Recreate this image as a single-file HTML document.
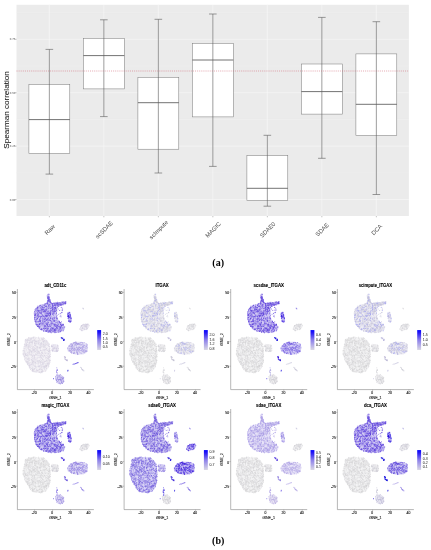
<!DOCTYPE html><html><head><meta charset="utf-8"><title>figure</title><style>html,body{margin:0;padding:0;background:#fff;width:431px;height:550px;overflow:hidden}svg{display:block}</style></head><body><svg width="431" height="550" viewBox="0 0 431 550" font-family="Liberation Sans, Arial, sans-serif"><defs><linearGradient id="cb" x1="0" y1="1" x2="0" y2="0"><stop offset="0" stop-color="#DAD8E4"/><stop offset="0.5" stop-color="#8C80EA"/><stop offset="0.85" stop-color="#2A1CF4"/><stop offset="1" stop-color="#0000FF"/></linearGradient><path id="A0" d="M29.07 26.13h0M18.28 32.13h0M18.02 35.65h0M29.76 48.33h0M20.85 44.13h0M40.31 41.59h0M26.98 27.71h0M42.36 23.87h0M17.42 31.66h0M21.4 28.96h0M26.74 35.81h0M33.17 38.69h0M38.32 40.79h0M32.73 40.09h0M43.04 45.69h0M43.75 47.24h0M27.43 45.66h0M28.69 49.78h0M29.08 39.41h0M26.21 30.93h0M21.36 44.95h0M19.88 28.21h0M35.55 39.66h0M35.05 41.11h0M42.59 51.66h0M32.84 34.44h0M25.81 39.58h0M27.59 47.5h0M17.17 35.22h0M39.07 36.91h0M40.5 52.01h0M30.21 36.45h0M20.09 26.21h0M31.52 35.08h0M43.78 47.61h0M36.95 23.29h0M34.7 50.72h0M41.13 24.87h0M36.96 28.99h0M31.25 26.84h0M26.41 32.37h0M24.2 32.58h0M23.82 43.49h0M44.73 44.35h0M42.05 46.59h0M42.36 43.01h0M37.5 52.39h0M22.67 30.62h0M20.19 32.74h0M24.39 49.31h0M33.25 30.06h0M32.62 46.42h0M32.44 22.7h0M39.13 44.54h0M19.29 31.17h0M45.59 48.36h0M22.09 32.82h0M36.42 45.32h0M45.54 24.27h0M20.98 27.67h0M43.06 48.67h0M44.46 21.94h0M34.51 44.95h0M34.63 29h0M25.88 50.42h0M31.97 45.81h0M33.01 38.78h0M26.14 29.48h0M38.98 38.48h0M28.03 40.12h0M29.67 15.98h0M37.26 52.34h0M38.07 26.9h0M33.83 44.23h0M39.53 31.08h0M19.58 29.2h0M38.46 37.5h0M34.05 47.54h0M23.45 40.48h0M21.89 30.47h0M29.97 39.48h0M30.92 20.39h0M21.35 47.85h0M29.9 50.91h0M35.74 47.47h0M33.44 30.56h0M23.14 43.08h0M24.21 31.63h0M30.86 20.64h0M33.87 28.65h0M31.07 30.74h0M41.91 47.93h0M21.26 35.68h0M38.46 34.18h0M30.01 34.14h0M44.75 23.93h0M23.74 45.11h0M34.57 44.43h0M21.22 27h0M24.75 45.73h0M31.2 25.34h0M38.74 28.81h0M43.08 22.52h0M30.86 38.11h0M33.75 45.68h0M31.26 18.57h0M29.72 42.72h0M46.64 47.22h0M26.7 42.26h0M25.1 27.9h0M32.59 28.53h0M43.27 50.5h0M21.76 31.04h0M27.18 33.91h0M18.97 42.71h0M43.71 25.12h0M30.28 49.46h0M28.72 26.52h0M37.87 44.62h0M32.71 51.5h0M19.05 39.89h0M18.59 43.8h0"/><path id="A1" d="M33.28 31h0M34.93 38.25h0M29.64 33.86h0M32.91 28.35h0M37.17 27.63h0M28.05 41.99h0M21.25 34.13h0M27.57 30.04h0M43.17 43.98h0M27.13 31.94h0M40.31 45.54h0M34.49 50.07h0M35.43 27.2h0M28.52 36.15h0M32.71 35.29h0M40.74 48.95h0M39.43 23.71h0M22.62 25.42h0M31.75 35.66h0M29.32 29.18h0M19.95 36.13h0M18.44 41.03h0M30.69 40.48h0M29.63 23.85h0M43.29 24.98h0M27.38 37.37h0M33.28 26.81h0M47.82 22.24h0M17.45 37.89h0M40.02 48.91h0M38.42 50.21h0M33.94 27.86h0M22.68 46.31h0M34.33 43.49h0M30.67 20.9h0M33.8 52.86h0M36.23 26.36h0M30.23 41.03h0M38.1 46.66h0M43.74 49.58h0M26.45 28.46h0M32.18 20.06h0M17.06 38.92h0M39.44 39.92h0M35.94 29.12h0M36.92 41.46h0M25.13 41.75h0M42.52 42.62h0M21.36 36.17h0M39.06 46.85h0M44.58 48.57h0M28.63 33.36h0M36.9 31.31h0M22.99 26h0M21.4 46.1h0M30.42 49.43h0M22.12 44.46h0M43.91 50.07h0M39.12 42.55h0M27.49 43.06h0M34.77 43.47h0M24.71 30.1h0M32.78 20.43h0M23.01 38.64h0M18.81 36.76h0M28.2 36.93h0M36.54 38.2h0M26.82 48.97h0M24.55 36.13h0M26.28 42.64h0M42.06 51.85h0M40.46 46.24h0M24.8 24.98h0M23.51 38.03h0M46.04 22.03h0M27.59 30.75h0M38.67 40.83h0M33.51 45.97h0M47.98 23.22h0M23.91 36.49h0M28.58 35.81h0M39.01 33.2h0M25.65 29.83h0M28.29 43.65h0M32.99 51.98h0M28.9 48.38h0M35.05 25.57h0M31.52 19.82h0M38.44 24.9h0M18.63 28.96h0M24.97 35.73h0M31.16 24.02h0M25.79 41.72h0M29.32 43.58h0M27.6 24.17h0M43.97 45.53h0M26.41 30.08h0M35.65 23.79h0M27.87 46.31h0M33.46 50.02h0M33.57 36.46h0M22.67 38.65h0M38 42.76h0M28.39 45.75h0M24.81 27.14h0M29.88 24.6h0M35.02 48.51h0M21.66 41.73h0M26.88 24.3h0M24.9 37.11h0M36.77 33.66h0M23.92 42.74h0M40.99 50.57h0M24.21 44.12h0M34.6 32.84h0M32.03 36.72h0M45.1 47.48h0M37.52 43.66h0M19.52 35.01h0M42.73 48.39h0M22.11 44.45h0"/><path id="A2" d="M34.37 48.35h0M33.64 50.34h0M37.8 23.29h0M32.98 26.02h0M33.8 43.25h0M21.67 26.73h0M38.72 49.56h0M38.47 25.22h0M29.96 17.43h0M22.24 32.13h0M42.68 24.6h0M34.2 23.27h0M31.25 31.51h0M28.33 33.19h0M43.08 51.71h0M23.16 33.37h0M36.87 25.51h0M20.2 35.63h0M39.32 46.78h0M30.23 49.71h0M37.1 46.05h0M42.06 50.22h0M18.56 33.47h0M43.05 23.63h0M45.7 24.86h0M43.07 23.43h0M40.29 44.17h0M21.58 32.74h0M17.96 39.84h0M24.23 29.89h0M18.45 35.85h0M31.04 33.8h0M20.23 38.58h0M47.39 46.98h0M33.02 22.55h0M22.19 25.98h0M39.84 22.98h0M40.07 25.01h0M41.49 26.17h0M35.74 50.51h0M36.24 28.41h0M27.34 25.94h0M35.91 27.04h0M26.94 30.44h0M31.69 32.54h0M30.25 22.44h0M48.11 23.69h0M39.96 24.98h0M28.17 45.91h0M45.74 49.19h0M46.58 47.21h0M19.4 41.77h0M29.51 32.68h0M29.2 30.03h0M25.04 29.97h0M17.65 40.29h0M36.88 50.9h0M33.77 42.75h0M28.3 30.33h0M36.08 51.39h0M38.56 48.83h0M31.41 35.22h0M36.4 33.4h0M42.95 25.41h0M26.93 49.14h0M20.11 38.43h0M37.05 27.81h0M16.83 32.82h0M41.87 41.62h0M31.8 46.63h0M17.9 30.55h0M25.39 43.94h0M29.27 47.88h0M33.34 33.86h0M37.52 52.7h0M25.23 38.8h0M32.11 40.45h0M32.9 24.14h0M25.06 44.17h0M44.83 44.97h0M28.82 26.78h0M42.59 46.1h0M36.77 32.19h0M38.1 50.94h0M41.62 49.57h0M35.88 37.93h0M27.85 41.28h0M35.73 43.39h0M29.41 35.16h0M23.04 41.16h0M30.65 47.89h0M27.72 23.87h0M44.43 22.83h0M39.32 46.14h0M25.25 38.99h0M19.96 28.6h0M45.15 45.53h0M43.06 47.59h0M43.14 24.65h0M17.26 31.56h0M35.98 35.16h0M39.05 28.97h0M23.71 29.21h0M42.58 49.52h0M35.34 48.89h0M39.99 38.85h0M22.15 30.76h0M33.12 32.57h0M34.87 33.07h0M45.84 44.42h0M30.29 36.61h0M22.03 47.47h0M42.92 46.94h0M32.08 50.65h0M32.58 33.21h0M20.19 32.8h0M29.71 46.89h0M40.76 46.91h0M26.59 51.12h0M37.34 31.36h0M34.78 23.6h0"/><path id="A3" d="M38.52 24.21h0M29.56 31.04h0M38.24 28.95h0M35.54 34.33h0M27.97 35.11h0M29.13 23.33h0M31.95 39.68h0M20.57 36.91h0M35.35 31.45h0M22.1 48.66h0M28.71 51.24h0M18.42 33.87h0M37.19 38.57h0M32.65 20.8h0M26.56 40.73h0M39.93 48.22h0M32.77 30.96h0M29.91 45.52h0M35.46 49.18h0M41.92 48.89h0M39.8 38.14h0M20.07 46.47h0M23.82 33.67h0M40.63 50.78h0M43.04 51.52h0M36.06 48.86h0M37.79 27.99h0M38.1 52.14h0M30.32 31.41h0M36.84 40.33h0M36.27 44.31h0M29.42 50.65h0M31.25 34.5h0M31.92 17.63h0M38.66 50.26h0M29.61 50.86h0M32.69 22.1h0M30.81 48.33h0M37.17 41.04h0M30.48 33.65h0M31.11 17.86h0M30.76 42.07h0M37.69 23.34h0M31.51 50.29h0M23.47 30.61h0M29.34 33.44h0M44.07 23.97h0M26.32 36.6h0M41.35 46.29h0M24.93 27.32h0M35.3 26.31h0M29.23 26.3h0M36.41 31.95h0M39.19 23.22h0M34.51 30.65h0M31.44 50.88h0M42.81 47.71h0M36.4 41.4h0M28.48 32.17h0M23.38 49.25h0M19.78 38.65h0M33.5 40.39h0M37.25 28.13h0M26.65 25.27h0M28.58 46.3h0M37.47 30.95h0M18.65 41.15h0M23.11 37.46h0M37.8 25.3h0M26.62 45.69h0M34.63 47.85h0M36.04 25.6h0M26.64 48.03h0M26.52 39.02h0M38.82 52.28h0M47.01 23.66h0M32.28 44.77h0M43.54 44.12h0M29.29 50.07h0M30.81 40.18h0M24.43 26.65h0M28.67 28.94h0M20.61 30.89h0M19.8 33.12h0M30.35 46.12h0M30.33 45.86h0M45.81 45.31h0M32.06 24.72h0M35.36 48.32h0M35.16 48.21h0M20.58 41.67h0M21.71 41.33h0M17.69 29.73h0M37.01 24.76h0M34.67 38.24h0M20.11 35.57h0M42.95 48.51h0M36.22 40.21h0M33.59 48.03h0M32.46 51.97h0M40.75 46.19h0M35.1 29.93h0M28.19 29.87h0M20.75 31.68h0M45.17 22.81h0M33.36 28.57h0M39.75 23.47h0M40.4 23.37h0M40.16 24.79h0M22.44 44.62h0M25.33 31.85h0M33.65 22.83h0M31.12 19.71h0M23.17 41.51h0M36.65 40.07h0M29.94 21.36h0M23.04 43.19h0M26.12 31.57h0M28.64 36.94h0M36.52 47.03h0M35.96 31.64h0"/><path id="A4" d="M25.03 40.8h0M23.99 33.88h0M26.2 43.95h0M36.99 40.81h0M30.48 38.61h0M27.99 50.91h0M22.07 43.94h0M30.85 42.5h0M29.11 44.51h0M32.94 22.38h0M31.7 18.08h0M35.1 24.23h0M25.52 29.21h0M28.55 35.2h0M26.4 31.62h0M28.81 40.5h0M26.25 35.99h0M36.9 27.46h0M37.7 45.04h0M22.39 47.07h0M21.26 37.28h0M38.2 48.77h0M19.97 46.43h0M30.96 46.49h0M39.1 36.99h0M39.19 48.08h0M25.78 29.36h0M26.96 30.16h0M31.67 21.57h0M37.52 25.24h0M37.12 44.43h0M23.7 27.98h0M31.28 25.25h0M42.97 47.65h0M34.94 23.74h0M27.02 41.54h0M37.91 27.73h0M36.97 37.26h0M41.22 52.09h0M43.75 25.02h0M41.89 41.71h0M27.72 46.33h0M37.04 31.73h0M21.18 34.12h0M29.26 35.37h0M28.76 29.97h0M43.26 47.25h0M32.92 46.44h0M36.69 29.59h0M31.72 19.11h0M26.18 51.07h0M17.73 41.47h0M37.46 25.41h0M33.6 43.89h0M32.5 33.11h0M30.74 43.99h0M24.43 36.6h0M20.4 34.4h0M30.15 43.36h0M30.95 51.78h0M32.51 44.93h0M28.97 43.13h0M33.69 52.12h0M28.02 23.88h0M30.4 20.75h0M37.31 49.4h0M22.9 27.81h0M22.51 41.14h0M31.89 26.99h0M39.14 47.33h0M44.08 45.33h0M36.96 29.93h0M20.66 46.08h0M18.11 34.43h0M38.59 30.31h0M22.58 39.29h0M36.99 49.54h0M24.22 32.2h0M33.19 48.84h0M20.12 27.53h0M34.14 49.98h0M32.6 33.16h0M28.38 38.91h0M36.89 50.41h0M26.73 25.46h0M35.16 43.04h0M28.54 26.09h0M30.84 37.94h0M29.53 44.7h0M40.61 25.44h0M34.1 41.78h0M19.56 38.02h0M44.32 24.85h0M34.93 24.96h0M39.59 23.92h0M25.27 29.69h0M38.05 27.3h0M37.31 51.25h0M38.16 31.51h0M36.52 30.5h0M39.43 38.56h0M43.72 50.78h0M28.24 48.39h0M31.29 26.81h0M36.28 33h0M26.8 36.57h0M20.75 41.76h0M39.73 48.18h0M20.03 38.5h0M31.17 28.65h0M32.94 21.51h0M39.66 35.29h0M32.88 34.57h0M42.02 47.02h0M17.17 39.14h0M16.84 33.96h0M29.72 27.15h0M30.39 39.47h0M24.66 26.31h0M23.46 49.59h0M17.78 35.26h0"/><path id="A5" d="M34.52 30.82h0M46.67 22.65h0M29.02 36.57h0M29.61 29.01h0M45.64 44.26h0M38.13 46.09h0M31.97 33.29h0M33.16 33.37h0M23.88 29.9h0M43.02 42.67h0M30.84 20.94h0M39.65 47.25h0M33.31 31.78h0M34.82 27.17h0M40.7 26.33h0M31.44 20.5h0M21.87 44.33h0M35.04 39.13h0M34.96 25.69h0M33.2 34.87h0M27.11 31.62h0M45.82 50.79h0M46.3 23.56h0M42.34 42.64h0M35.24 34.09h0M17.92 34.9h0M35.49 48.73h0M25.7 27.3h0M32.64 50.98h0M31.79 35.64h0M19.42 39.54h0M29.76 22.8h0M35.26 29.09h0M27.39 45.09h0M34.79 27.26h0M22.51 36.41h0M22.14 39.77h0M19.96 27.78h0M39.71 27.39h0M33.28 37.83h0M33.21 34.39h0M37.34 23.91h0M29.11 39.86h0M31.76 25.04h0M23.04 40.81h0M24.14 48.92h0M26.65 27.5h0M28.82 51.32h0M39.2 33.11h0M36.77 49.02h0M22.86 25.32h0M45.78 44.72h0M18.57 44.22h0M40.25 45.65h0M41.6 41.1h0M44.13 45.29h0M27.02 39.62h0M28.37 35.73h0M21.96 40.91h0M30.28 35.32h0M40.46 42.81h0M41.26 44.26h0M33.17 40.81h0M27.74 48.42h0M21.43 36.06h0M31.17 18.91h0M17.61 37.52h0M37.34 50.35h0M22.79 32.18h0M20.83 30.43h0M30.48 48.54h0M37.76 44.74h0M38.84 30.22h0M29.93 44.56h0M27.91 26.32h0M35.44 51.37h0M29.59 35.61h0M19.3 44.58h0M26.86 46.65h0M22.49 43.88h0M32.85 49.8h0M24.89 43.12h0M18.69 28.74h0M17.26 37.11h0M28.08 31.52h0M20.27 44.72h0M21.21 46.29h0M17.09 35.2h0M37.11 45.12h0M35.18 29.66h0M32.52 51.25h0M43.83 46.56h0M47.75 21.98h0M36.68 23.31h0M30.53 32.92h0M34.93 28.15h0M24.18 49.8h0M19.52 45.31h0M19.64 30.88h0M26.33 48.41h0M41.54 22.61h0M43.16 44.52h0M25.1 35.02h0M21.69 46.76h0M39.31 45.28h0M22.63 32.97h0M38.07 28.38h0M24.69 49.15h0M26.77 38.26h0M19.84 30h0M32.89 38.31h0M24.51 28.82h0M17.98 41.99h0M21.19 31.09h0M30.63 33.37h0M30.21 23.57h0M30.71 52.23h0M28.06 38.67h0M34.55 23.86h0M23.47 36.4h0M38.17 50.01h0"/><path id="B0" d="M52.42 32.38h0M52.74 34.97h0M52.94 35.82h0M52.35 41.97h0M52.52 34.51h0M53.06 40.97h0"/><path id="B1" d="M51.94 40.75h0M50.53 35.91h0M51.7 36.25h0M50.5 36.59h0M53.94 41.06h0M53.5 37.74h0"/><path id="B2" d="M52.21 37.11h0M51.37 37.68h0M50.96 37.64h0M52.26 37.41h0M50.69 38.49h0M52.88 36.48h0"/><path id="B3" d="M51.96 32.68h0M50.73 36.16h0M51.46 35.95h0M51.71 41.43h0M50.23 34.24h0"/><path id="B4" d="M53.44 37.97h0M51.11 41.03h0M50.96 35.38h0M51.21 36.5h0M51.42 33.78h0"/><path id="B5" d="M50.45 36.06h0M50.54 33.1h0M52.8 35.06h0M53.19 41.81h0M53.78 38.76h0"/><path id="C0" d="M67.74 45.05h0M70.75 44.39h0M69.48 48.87h0M62.54 48.78h0M65.9 48.34h0M69.18 46.52h0M64.79 47.65h0M70.32 47.13h0M66.7 46.59h0"/><path id="C1" d="M67.66 45.86h0M71.64 45.56h0M65.64 46.42h0M68.04 46.51h0M63.97 46.36h0M65.41 45.37h0M65.94 44.28h0M65.35 45.39h0M67.08 45.89h0"/><path id="C2" d="M64.35 45.53h0M66.98 49.12h0M69.76 44.95h0M68.8 45.02h0M69.67 44.3h0M64.55 48.77h0M68.03 45.68h0M68.04 44.21h0"/><path id="C3" d="M69.15 44.93h0M65.35 47.76h0M64.44 50.63h0M68.34 46.46h0M65.59 44.62h0M67.6 44.64h0M69.48 44.97h0M64.07 46.05h0"/><path id="C4" d="M69.97 48.73h0M68.67 49.62h0M62.57 49.22h0M63.11 47.07h0M67.42 46.9h0M63.73 49.94h0M70.55 44.03h0M69.28 48.76h0"/><path id="C5" d="M63.88 45.68h0M68.78 47.33h0M65.23 48.29h0M64.65 50.64h0M69.44 46.82h0M66.74 49.05h0M66.67 44.95h0M69.57 44.68h0"/><path id="D0" d="M21.75 64.09h0M18.78 66.05h0M6.55 72.31h0M27.73 89.31h0M8.3 68h0M14.54 81.42h0M11.22 66.53h0M20.82 86.52h0M11.44 71.29h0M32.78 72.68h0M32.38 71.54h0M24.05 64.97h0M8.78 60.87h0M12.3 65.33h0M14.38 57.89h0M26.14 65.31h0M24.53 92.73h0M12.55 78.95h0M27.83 81.31h0M23.6 81.3h0M24.48 82.06h0M10.35 66.73h0M6.61 67.32h0M9.78 76.1h0M8.28 65.03h0M25.61 76.8h0M14.98 68.63h0M25.49 64.67h0M16.6 72.1h0M18.48 61.22h0M24.67 70.82h0M19.01 63.73h0M23.8 87.92h0M26.4 74.97h0M27.6 65.13h0M15.15 79.63h0M27.81 85.44h0M17.6 82.39h0M29.69 67.72h0M15.63 73.04h0M30.65 62.64h0M7.5 66.5h0M8 76.85h0M15.38 89.82h0M15.12 88.44h0M10.96 65.72h0M29.07 88.19h0M31.74 75.85h0M18.62 61.77h0M12.07 64.11h0M18.66 92.49h0M16.07 78.88h0M19.91 86.49h0M30.52 65.32h0M13.34 71.43h0M28.11 61.28h0M32.24 68.81h0M13.2 70.66h0M27.52 69.45h0M24.92 91.77h0M17.67 91.44h0M16.68 88.94h0M9.7 71.72h0M15.09 60.34h0M31.36 84.2h0M17.09 68.06h0M27.94 76.29h0M28.93 87.48h0M10.38 61.87h0M12.19 60.57h0M10.69 84.54h0M32.14 64.41h0M22.94 85.88h0M9.59 65.1h0M21.57 60.84h0M9.23 78.11h0M8.04 60.79h0M15.32 58.12h0M14.52 86.53h0M26.23 87.86h0M25.96 63.1h0M24.28 62.4h0M23.78 86.01h0M15.82 60.92h0M19.04 89.65h0M9.16 73.51h0M12.35 73.84h0M14.65 71.21h0M24.34 87.55h0M23.97 77.76h0M15.27 89.36h0M9.57 79.46h0M8.22 66.32h0M9.18 63.25h0M19.77 74.38h0M26.02 76.29h0M14.78 63.7h0M12.71 70.19h0M8.72 64.15h0M23.43 89.95h0M25.51 82.86h0M12.47 83.62h0M18.93 66.86h0M22.18 67.35h0M23.85 87.07h0M20.07 67.33h0M12.46 66.89h0M6.93 64.36h0M22.48 89.42h0M5.43 74.07h0M22.91 66.3h0M26.18 84.07h0M28.06 66.07h0M21.31 89.61h0M22.2 80.39h0M23.23 73.94h0M10.62 64.84h0M18.5 62.04h0M28.78 68.66h0M19.32 79.27h0M17.84 87.09h0M14.63 84.55h0M10.26 59.45h0M31.65 83.68h0M14.43 83.31h0M23.57 62.75h0M21.34 77.13h0M26.26 62.17h0M5.92 68.59h0M27.93 84.26h0M17.55 59.38h0M20.77 80.81h0M9.62 62.33h0M16.6 60.09h0M23.79 60.24h0M22.25 89.33h0M12.06 83.37h0M27.82 73.34h0M9.36 61.89h0"/><path id="D1" d="M32.84 70.74h0M19.25 81.02h0M27.72 61.02h0M18.92 63.94h0M18.44 64.08h0M14.05 82.92h0M15.33 73.84h0M20.94 82.2h0M27.85 81.51h0M15.88 81.13h0M31.34 79.96h0M30.84 85.57h0M16.46 91.15h0M12.91 59.38h0M17.95 81.53h0M8.65 67.19h0M8.79 73.72h0M26.49 60.69h0M18.22 58.51h0M10.4 74.96h0M27.37 87.14h0M12.84 87.14h0M17.1 78.63h0M7.66 80.31h0M28.63 63.04h0M14.73 78.37h0M15.42 80.78h0M23.02 81.87h0M19.92 81.34h0M30.44 85.77h0M27.86 69.54h0M23.7 78.06h0M16.95 86.53h0M30.69 79.02h0M24.66 66.16h0M12.86 84.65h0M23.23 67.06h0M18.81 79.97h0M24.26 82.48h0M27.2 88.27h0M12.44 72.2h0M23.09 82.41h0M10.42 76.64h0M25.22 82.53h0M24.05 66.95h0M21.73 64.96h0M22.12 75.31h0M32.47 81.71h0M8.45 65.73h0M30.62 85.47h0M22.48 77.23h0M17.1 59.22h0M10.33 62.63h0M29.06 60.6h0M9.67 75.05h0M26.71 64.96h0M20.49 72.1h0M29.24 72.92h0M32.36 81.17h0M18.42 71.36h0M15.77 90.38h0M23.82 66.34h0M23.02 76.51h0M16.26 70.83h0M20.58 68.25h0M18.35 60.28h0M25.04 63.26h0M14.83 81.03h0M18.86 90.97h0M31.42 84.4h0M14.61 60.64h0M21.71 86.81h0M15.63 84.36h0M11.83 70.14h0M12.26 87.14h0M22.2 73.42h0M7.35 77.92h0M21.93 66.14h0M29.52 79.88h0M19.55 63h0M29.7 72.86h0M15.52 67.85h0M26.48 65.66h0M11.66 72.8h0M21.66 73.24h0M27.54 68.1h0M25.15 81.82h0M25.73 80.31h0M17.91 75.06h0M27.11 89.65h0M30.88 87.09h0M27.74 64.84h0M16.34 57.23h0M22 81.97h0M23.32 91.78h0M25.62 66.19h0M32.57 82.51h0M11.6 71.08h0M7.13 76.7h0M11.73 74.13h0M26.39 81.36h0M27.82 65.21h0M12.7 88.65h0M21.59 90.77h0M23.91 64.44h0M21.98 92.12h0M29.15 89.02h0M12.02 78.09h0M8.76 64.97h0M31.87 81.63h0M25.35 58.05h0M11.84 66.16h0M22.75 63.74h0M12.85 59.14h0M12.28 67.77h0M18.9 70.25h0M19.55 70.46h0M14.6 66.54h0M24.47 82.53h0M8.09 78.24h0M14.71 65.88h0M7.16 68.59h0M16.68 91.51h0M15.37 91.13h0M18.73 57.59h0M12.49 84.05h0M10.95 80.82h0M29.53 78.13h0M31.54 76.93h0M26.08 82.76h0M12.05 62.52h0M6.69 70.64h0M27.69 60.72h0M30.71 74.89h0M11.19 78.03h0M8.38 80.59h0M10.93 68.15h0M23.57 75.41h0M18.41 74.71h0"/><path id="D2" d="M18.27 82.73h0M19.59 78.15h0M17.29 62.56h0M13.95 58.88h0M11.39 67.42h0M31.98 68.73h0M20.14 66.88h0M26.56 88.22h0M24.51 81.82h0M30.2 76.18h0M27.3 65.96h0M17.35 67.69h0M21.21 83.18h0M7.02 71.83h0M17.51 61.12h0M30.93 77.14h0M29.75 84.08h0M18.17 64.07h0M25.73 87.54h0M23.99 64.94h0M26.79 61.81h0M5.73 71h0M15.29 84.12h0M19.72 63.27h0M26.99 88.99h0M18.67 74.8h0M8.92 69.15h0M30.76 85.25h0M6.81 75.2h0M20.14 75.72h0M20.61 70.89h0M15.05 83.49h0M7.56 63.9h0M9.07 66.85h0M11.06 66.02h0M29.88 62.79h0M11.06 66.3h0M28.4 85.19h0M16.87 89.45h0M17.5 57.08h0M22.91 83.04h0M5.96 75.12h0M23.05 81.92h0M14 79.52h0M11.16 73.23h0M29.07 86.01h0M24.2 92.05h0M26.15 57.82h0M7.14 70.89h0M22.89 77.22h0M18.21 86.58h0M10.77 79.46h0M25.36 65.21h0M9.26 70.12h0M11.45 59.28h0M23.85 77.29h0M15.13 87.36h0M25.23 84.69h0M20.35 69.06h0M26.33 79.86h0M28.72 85.5h0M10.3 61.11h0M14.72 85.14h0M10.55 82.43h0M23.02 83.65h0M20.99 82.58h0M14.61 75.76h0M20.12 80.35h0M7.3 79.42h0M25.68 60.37h0M28.28 69.38h0M15.18 82.31h0M15.58 91.6h0M15.4 82.97h0M19.68 68.6h0M25.17 90.99h0M6.82 76.04h0M15.24 69.03h0M24.34 58.16h0M19.63 62.4h0M7.69 64.6h0M16.03 60.31h0M10.05 84.49h0M19.55 90.53h0M26.98 71.15h0M22.75 88.83h0M15.55 72.53h0M11.27 58.24h0M17.37 70.65h0M17.55 91.98h0M9.89 61.89h0M28.51 65.1h0M10.75 60.11h0M14.83 90.53h0M28.3 78.59h0M25.12 86.42h0M28.61 85.83h0M29.09 83.18h0M17.54 85.43h0M14.79 63.79h0M24.12 82.65h0M15.85 57.35h0M11.3 85.52h0M20.77 84.38h0M23.44 88.59h0M16.69 91.57h0M18.02 78.03h0M26.93 70.44h0M24.03 87h0M29.92 61.96h0M32.08 75.2h0M23.53 77.46h0M20.59 73.36h0M32.16 82.01h0M18.67 63.21h0M8.61 64.61h0M26.12 77.22h0M15.88 91.62h0M27.05 60.66h0M15.5 76.3h0M7.83 72.9h0M32.71 80.31h0M28.04 72.02h0M24.42 77.02h0M12.85 64.62h0M25.11 79.64h0M31.8 83.61h0M15.37 70.03h0M17.53 62.01h0M22.89 69.2h0M28.55 85.25h0M18.18 71.42h0M28.37 65.65h0M32.47 80.14h0M26.36 66.82h0M21.77 86.63h0M25.8 85.63h0M19.31 87.62h0M21.84 62.16h0"/><path id="D3" d="M26.64 62.27h0M21.79 72.62h0M17.25 60.93h0M19.36 72.03h0M23.87 63.63h0M21.38 73.21h0M22.61 67.75h0M16.49 81.4h0M7.64 66.71h0M25.46 83.93h0M32.67 76.61h0M10.56 83.92h0M16.63 60.12h0M17.14 69.62h0M18.6 68.93h0M15.12 90.79h0M13.64 66.16h0M25.16 90.43h0M7.58 71.13h0M14.61 64.64h0M27.3 66.33h0M23.4 63.44h0M16.45 81.74h0M24.62 71.06h0M10.85 78.03h0M18.48 91.39h0M26.28 58.22h0M10.84 67.82h0M29.31 70.19h0M11 57.8h0M12.2 71.8h0M31.74 64.06h0M22.74 82.03h0M8.16 59.5h0M23.25 79.8h0M14.2 72.73h0M26.49 73.88h0M27.57 83.49h0M12.87 87.37h0M31.42 69.28h0M21.58 82.98h0M12.76 74.49h0M20.77 71.54h0M26.36 66.87h0M6.78 66.45h0M24.23 80.44h0M15.39 89.44h0M24.99 79h0M12.59 69.75h0M14.65 60.86h0M26.89 86.73h0M24.67 78.51h0M12.43 73.3h0M22.96 70.48h0M12.23 69.64h0M27.36 86.52h0M10.33 74.22h0M19.57 91.09h0M16.27 74.94h0M13.72 59.25h0M14.18 71.98h0M25.82 82.88h0M9.42 81.13h0M12.98 75.06h0M29.46 81.07h0M32.23 76.09h0M13.7 71.68h0M15.17 89.32h0M22.04 59.21h0M15.6 90.07h0M24.44 90.31h0M7.82 78.06h0M9.12 77.92h0M20.18 83.03h0M16.89 88.65h0M16.53 77.61h0M24.65 73.93h0M15.31 78.73h0M23.85 84.56h0M14.42 84.69h0M17.24 62.93h0M12.65 70.12h0M11.58 79.45h0M32.79 80.5h0M21.91 85.74h0M19.89 60.97h0M11.55 78.48h0M22.61 67.47h0M16.73 79.84h0M19.54 74.73h0M16.79 76.52h0M32.3 66.56h0M26.02 61.67h0M11.76 74.92h0M31.35 74.01h0M10.7 75.63h0M12.64 65.71h0M30.36 73.89h0M26.7 65.02h0M11.75 85.19h0M16.83 81.05h0M25.79 70.78h0M15.34 62.07h0M10.23 62.43h0M9.68 81.57h0M12.16 66.21h0M26.87 72.7h0M24.09 85.74h0M16.2 85.17h0M25.02 91.74h0M23.02 65.63h0M15.64 87.96h0M25.87 91.13h0M15.4 89.18h0M14.23 58.89h0M20.53 67.43h0M9.77 79.71h0M16.21 83.86h0M24.93 75.53h0M9.93 59.59h0M33 76.43h0M23.73 78.08h0M25.41 83.2h0M14.33 80.15h0M17.39 63.9h0M27.16 75.58h0M12.25 70.14h0M27.94 67.46h0M25.36 83.89h0M19.31 89.31h0M21.76 62.79h0M21.78 81.33h0M28.65 64.22h0M25.6 66.76h0M10.17 60.56h0M31.06 66.42h0M31.71 77.72h0M12.35 62.05h0"/><path id="D4" d="M9.21 60.45h0M24.1 91.86h0M13.01 58.3h0M27.36 86.61h0M28.5 90.69h0M15.69 75.33h0M24.86 59.55h0M22.75 73.93h0M12.98 62.78h0M32.07 70.25h0M25.34 76.01h0M24.2 62.75h0M17.53 72.12h0M23.79 63.45h0M21.45 92.1h0M15.79 58.32h0M11.91 63.1h0M30.79 82.38h0M13.76 68.63h0M16.64 89.85h0M23.11 84.99h0M25.69 69.25h0M11.42 83.77h0M14.23 58.26h0M18.01 88.04h0M10.13 72.72h0M31.76 72.89h0M17.16 69.12h0M20.74 64.36h0M17.3 88.57h0M24.3 58.88h0M6.1 74.16h0M19.59 90.67h0M9.68 81.79h0M28.56 62.79h0M26.76 87.03h0M13.16 59.99h0M8.49 59.4h0M27.59 86.13h0M7.18 64.96h0M9.74 60.24h0M21.03 75.24h0M11.35 81.14h0M30.34 80.94h0M32.12 66.63h0M18.67 74.86h0M23.18 81.84h0M25.57 58.89h0M19.87 81.31h0M17.97 86.09h0M30.8 76.8h0M27.38 69.79h0M27.61 81.35h0M22.37 67.53h0M23.59 66.96h0M25.87 69.9h0M21.68 72.34h0M26.85 82.29h0M27.54 76.11h0M10.63 83.45h0M31.33 77.13h0M8.56 81.54h0M32.26 75.85h0M18.65 66.26h0M9.1 75.53h0M29.33 60.91h0M25.67 84.13h0M17.4 71.03h0M21.67 77.64h0M30.26 83.19h0M24.81 59.37h0M15 62.79h0M30.77 65.35h0M10.73 82.29h0M13.32 67.36h0M31.19 73.55h0M28.98 85.27h0M14.23 71.6h0M15.6 70.91h0M26.89 58.44h0M27.76 69.9h0M18.25 73.84h0M17.07 65.48h0M23.15 92.87h0M8.53 75.2h0M30.5 83.37h0M30.12 70.19h0M11.72 72.46h0M14.79 71.09h0M27 60.78h0M27.99 73.58h0M18.77 69.1h0M16.08 69.03h0M25.5 79.64h0M29.99 78.59h0M16.79 86.03h0M17.25 60.28h0M27.07 87.27h0M27.62 85.83h0M13.93 71.95h0M12.95 61.04h0M22.16 86.63h0M15.34 61.26h0M22.49 68.34h0M12.16 85.61h0M29.18 68.89h0M10.7 66.51h0M7.77 74.14h0M17.34 82.78h0M21.74 85.79h0M5.85 73.88h0M16.64 78.95h0M12.57 85.46h0M32.46 68.22h0M14.86 62.01h0M24.02 72.55h0M29.45 75.45h0M29.09 88.46h0M22.93 76.14h0M30.15 84.16h0M30.65 83.77h0M25.12 73.32h0M17.18 77.54h0M15.24 67.98h0M22.66 64.74h0M14.74 90.97h0M18.75 83.27h0M20.79 86.02h0M28.73 81.04h0M25.22 89.19h0M26.64 67.43h0M27.56 63.55h0M19.81 73.36h0M18.58 86.54h0M25.34 91.47h0M21.17 57.27h0M11.7 64.08h0M19.87 77.88h0"/><path id="D5" d="M7.48 68.89h0M31.86 77.32h0M17 75.43h0M27.52 81.54h0M14.96 81.99h0M31.7 71.63h0M15.49 82.59h0M18.12 82.57h0M22.58 67.87h0M8.33 62.79h0M23.54 87.06h0M21.31 60.76h0M14.06 75.12h0M13.26 89.59h0M29.23 68.52h0M11.47 60.33h0M20.33 90.72h0M7.15 76.5h0M9.04 65.61h0M31.47 86.28h0M30.59 63.49h0M22.59 60.73h0M9.06 63.89h0M32.39 70.81h0M18.79 61.53h0M26.16 61.81h0M25.35 61.1h0M13.89 79.72h0M12.74 84.9h0M11.78 58.01h0M14.64 62.85h0M10.04 82.01h0M25.76 59.63h0M20.34 66.88h0M15.35 90.22h0M32.88 74.29h0M22.35 89.13h0M29.15 85.43h0M31.08 71.41h0M20.68 90.14h0M23.64 70.66h0M23.55 75.48h0M7.91 74.73h0M29.52 64.6h0M27.76 91.3h0M13.94 88.42h0M5.81 70.42h0M20.64 71.44h0M12.18 86.29h0M17.54 71.26h0M15.77 66.63h0M15.38 89.98h0M7.8 61.19h0M14.13 84.23h0M25.84 61.62h0M17.48 63.27h0M28.45 77.35h0M21.81 80.57h0M14.32 61.88h0M29.03 80.28h0M19.7 72.74h0M18.06 61.35h0M21.36 86.69h0M30.68 70.73h0M17.2 63.88h0M15.35 80.76h0M15.96 81.82h0M10.26 78.89h0M26.04 64.1h0M28.53 86.17h0M14.03 62.43h0M31.59 83.75h0M10.43 68.09h0M15.71 69.66h0M18.06 65.47h0M24.58 72.97h0M7.98 75.04h0M31.18 78.7h0M16.51 67.13h0M18 79.88h0M10.74 64.86h0M21.23 63.49h0M8.86 82.3h0M15.98 70.11h0M29.47 77.65h0M27.3 75.49h0M11.68 60.31h0M23.1 70.51h0M11.76 62.98h0M24.59 91.78h0M32.32 80.11h0M8.34 74.73h0M17.77 83.99h0M21.41 58.63h0M12.78 62.28h0M24.91 72.87h0M20.93 62.12h0M11.92 80.34h0M8.63 65.69h0M19.85 70.02h0M11.19 69.21h0M9.3 65.16h0M31.65 71.78h0M19.46 61.21h0M29.25 85.86h0M30.87 64.91h0M9.72 64.82h0M23.47 64.41h0M24.04 91.75h0M22.24 92.18h0M6.83 73h0M31.37 79.94h0M21.64 71.36h0M20.9 81.1h0M15.02 76.1h0M17.92 68.39h0M26.09 86.51h0M16.99 76.01h0M25.82 64.42h0M24.03 74.8h0M7.8 60.23h0M22.14 89.5h0M13.55 70.74h0M29.06 86.44h0M10.03 83.76h0M9.75 75.39h0M24.02 89.41h0M16.52 69.7h0M28.03 87.24h0M11.93 87.79h0M15.83 57.28h0M32.14 70h0M12.63 82.55h0M28.81 61.76h0M7.72 73.58h0M19.47 67.37h0M14.13 74.12h0M14.49 77.42h0"/><path id="E0" d="M34.58 66.15h0M36.76 66.27h0M35.17 68.43h0M39.13 70.82h0M38.22 66.1h0M38.85 70.42h0M37.75 65.01h0M39.83 71.53h0M36.25 69.46h0"/><path id="E1" d="M39.77 70.19h0M36.5 70.44h0M35.57 69.63h0M37.82 67.01h0M41.23 70.24h0M40.11 65.72h0M36.34 68.66h0M40.91 68.49h0M35.5 71.56h0"/><path id="E2" d="M39.73 68.91h0M38.66 67.77h0M34.52 69.33h0M35.69 70.32h0M41.02 68.5h0M37.92 68.82h0M38.74 68.22h0M34.85 66.33h0M36.99 67.53h0"/><path id="E3" d="M35.08 70.75h0M34.06 66.64h0M34.87 70.9h0M35.77 68.3h0M36.39 68.3h0M40.72 65.83h0M39.23 69.37h0M39.29 71.62h0M36.9 68.34h0"/><path id="E4" d="M37.39 68.38h0M34.64 66.71h0M34.76 70.24h0M39.26 68.61h0M33.96 66.06h0M40.19 70.59h0M39.77 66.36h0M39.81 67.67h0M40.15 65.15h0"/><path id="E5" d="M34.46 65.87h0M35.66 66.97h0M38.97 71.02h0M40.29 71.41h0M38.74 70.68h0M37.64 71.54h0M34.76 70.43h0M36.37 65.12h0"/><path id="F0" d="M60.25 74.27h0M61.56 68.57h0M57.39 62.4h0M68.28 65.97h0M54.88 65.09h0M64.91 66.55h0M52.74 65.95h0M54.71 72.18h0M67.79 69.17h0M69.83 65.68h0M60.08 72.85h0M52.98 68.56h0M53.04 67.05h0M60.27 71.01h0M63.02 70.45h0M67.39 65.44h0M65.66 73.94h0M60.35 74.51h0M55.9 70.79h0M64.97 70.1h0M55.87 70.63h0M51.44 65.95h0M58.7 63.37h0M50.68 68.92h0M65.97 66.97h0M64.47 71.88h0M68.85 67.05h0M61.34 66.71h0M58.94 64.57h0M58.41 65.44h0M50.57 68.2h0M56.01 73.35h0M58.84 70.74h0M65.35 66.07h0M67.91 71.74h0M65.83 64.02h0"/><path id="F1" d="M69.9 71.12h0M55.41 68.03h0M58.31 62.76h0M51.55 66.82h0M65.34 64.17h0M55.08 68.21h0M52.51 70.73h0M62.01 67.49h0M55.31 70.44h0M52.89 66.61h0M62.68 65.88h0M61.47 67.92h0M65.7 66.11h0M63.72 68.57h0M68.61 71.19h0M56.73 64.43h0M61.55 63.72h0M61.71 64.61h0M59.53 63.82h0M54.13 69.92h0M52.07 65.59h0M68.35 71.61h0M66.01 72.03h0M51.97 68.73h0M63.54 65.03h0M56 62.79h0M68.02 71.1h0M69.16 65.35h0M58.85 70.12h0M55.27 66.18h0M63.16 67.63h0M52.65 71.53h0M54.05 66.2h0M69.26 70.28h0M58.68 62.03h0M62.52 72.64h0"/><path id="F2" d="M54.02 66.55h0M58.63 64.55h0M67.44 73h0M58.23 63.52h0M58.55 69.79h0M62.24 64.47h0M66.22 66.47h0M56.94 70.24h0M57.2 70.74h0M53.7 64.06h0M60.17 73.51h0M51.58 66.27h0M53.9 68.51h0M54.69 70.38h0M64.31 70.55h0M52.43 68.55h0M60.32 74.46h0M56.11 69.27h0M61.89 64.19h0M69.89 64.66h0M69.02 68.19h0M65.02 64h0M67.07 65.47h0M56.75 62.79h0M64.14 64.8h0M61.83 63.68h0M65.97 70.72h0M57.41 68.43h0M54.79 69.84h0M50.87 70.9h0M60.16 69.29h0M63.91 73.62h0M70.23 67.81h0M54.11 72.87h0M68.02 68.25h0M66.17 70.48h0"/><path id="F3" d="M61.38 71.08h0M53.67 72.17h0M53.41 72.3h0M63.45 73.04h0M66.71 62.5h0M59.73 72.96h0M60.18 69.47h0M54.19 67.02h0M67.89 70.44h0M53.82 63.66h0M56.21 63.25h0M68.77 70.57h0M59.12 72.39h0M52.78 70.54h0M63.26 68.18h0M59.89 68.37h0M59.11 65.92h0M64.87 67.5h0M55.66 68.37h0M61.86 71.91h0M54.07 72.88h0M60.61 73.92h0M62.47 67.44h0M60.57 63.54h0M60.2 72.62h0M57.34 65.29h0M60.02 64.14h0M52.52 70.53h0M59.44 67.82h0M64.02 62.39h0M55.25 64.11h0M56.14 72.74h0M58.76 69.91h0M66.47 69.8h0M54.28 68.18h0M51.73 69.97h0"/><path id="F4" d="M55.43 67.71h0M56.65 66.73h0M60.43 70.28h0M52.59 70.97h0M63.63 64.74h0M69.27 64.03h0M65.44 69.35h0M57.32 62.78h0M66.98 70.07h0M55.98 69.82h0M69.08 66.46h0M55.42 66.18h0M64.13 67.7h0M57.57 69.35h0M64.92 62.59h0M69.28 71.61h0M67.71 66.96h0M64.2 69.88h0M60.11 64.02h0M59.09 71.11h0M59.75 71.88h0M63.56 70.6h0M54.95 64.95h0M65.34 66.42h0M62.72 64h0M65.6 67.09h0M56.92 68.31h0M56.52 63.24h0M58.08 62.06h0M65.41 69.92h0M60.46 69.46h0M52.91 64.22h0M50.22 68.09h0M52.66 70.06h0M60.56 63.67h0M54.22 69.6h0"/><path id="F5" d="M55.23 65.6h0M54.15 66.07h0M61.42 70.04h0M66.75 72.46h0M57.57 62.52h0M62.86 62.63h0M52.47 65.95h0M57.07 72.29h0M66.4 65.31h0M60.94 63.69h0M54.11 71.72h0M57.4 69.98h0M58.97 63.28h0M54.42 64.72h0M57.32 73.33h0M61.81 67.19h0M59.25 67.35h0M57.89 64.68h0M65.38 71.55h0M64.94 68.44h0M62.93 68.42h0M62.06 69.65h0M60.95 68.17h0M66.55 67.73h0M66.68 71.58h0M59.95 73.88h0M59.95 64.33h0M61.66 69.91h0M55.97 73.55h0M57.53 68.19h0M60.56 67.9h0M58.68 62.89h0M60.92 64.13h0M68.53 71.54h0M54.79 68.45h0M59.04 63.27h0"/><path id="G0" d="M42.09 102.8h0M40.2 96.17h0M41.63 97.23h0M40.04 98.64h0M38.67 99.82h0M46.12 102.13h0M43.14 103.32h0M42.77 96.92h0M42.22 95.29h0M39.97 96.76h0M44.3 98.16h0M44.18 100.69h0"/><path id="G1" d="M43.67 99.38h0M38.79 99.86h0M38.37 97.31h0M41.03 99.65h0M38.18 96.53h0M46.08 98.21h0M41.7 96.95h0M45.4 96.69h0M46.36 97.58h0M46.25 97.75h0M44.58 102.09h0M41.53 101.54h0"/><path id="G2" d="M43.15 103.89h0M44.74 100.04h0M40.16 98.03h0M45.25 99.06h0M40.06 99.33h0M43.83 100.76h0M43.3 97.73h0M45.81 97.65h0M44.71 97.81h0M38.81 99.64h0M43.62 96.09h0"/><path id="G3" d="M45.6 98.94h0M42.74 98.91h0M44.35 102.33h0M41.43 103.03h0M44.94 103.46h0M42.83 99.18h0M43.07 94.69h0M40.11 101.5h0M44.32 99.73h0M39.25 100.52h0M45.58 101.85h0"/><path id="G4" d="M40.24 97.76h0M43.18 99.61h0M42.43 103.38h0M40.9 99.89h0M43.45 100.31h0M44.68 103.5h0M41.01 100.11h0M43.79 101.38h0M43.88 97.66h0M45.5 98.82h0M39.28 100.29h0"/><path id="G5" d="M45.32 98.31h0M44.37 102.4h0M41.62 96.7h0M42.94 99.8h0M46.55 101.32h0M39.39 102.15h0M38.46 98.69h0M46.11 100.94h0M42.01 99.69h0M41.63 95.38h0M41.74 99.41h0"/><path id="J0" d="M39.9 89.34h0M39.84 93.2h0"/><path id="J1" d="M39.71 94.86h0M39.38 87.79h0"/><path id="J2" d="M39.03 92.04h0M39.8 89.89h0"/><path id="J3" d="M39.6 92.65h0M39.16 90.32h0"/><path id="J4" d="M39.57 95.09h0M39.07 91.87h0"/><path id="J5" d="M40.03 90.41h0"/><path id="K0" d="M43.76 30.18h0M44.3 32.53h0M44.77 28.1h0"/><path id="K1" d="M41.34 34.36h0M43.4 35.27h0M43.68 36.84h0"/><path id="K2" d="M40.78 29.02h0M42.74 36.3h0M44.26 32.71h0"/><path id="K3" d="M44.71 32.32h0M42.09 30.44h0M45.25 29.16h0"/><path id="K4" d="M42.83 33.44h0M44.06 41.92h0"/><path id="K5" d="M45.21 30.32h0M43.84 27.41h0"/><path id="H0" d="M46.73 60.16h0M44.05 57.68h0M46.66 59.16h0"/><path id="H1" d="M46.16 60.44h0M46.88 59.54h0M36.1 98.7h0"/><path id="H2" d="M45.51 58.27h0M46.27 59.47h0M50.6 90.3h0"/><path id="H3" d="M46.6 60.42h0M44.78 58.81h0M43.78 57.78h0"/><path id="H4" d="M44.75 58.01h0M50.4 91h0"/><path id="H5" d="M46.22 60.14h0M44.67 58.26h0"/><path id="S0" d="M30.6 14.57h0M32.08 21.21h0M31.78 16.56h0M30.35 17.59h0"/><path id="S1" d="M31.02 21.6h0M30.46 17.32h0M30.46 17.05h0M30.92 16.18h0"/><path id="S2" d="M31.42 18.15h0M32.14 21.08h0M32.15 19.32h0M30.56 17.91h0"/><path id="S3" d="M30.46 18.48h0M30.69 18.85h0M31.06 18.78h0"/><path id="S4" d="M31.88 21.21h0M30.67 18.26h0M30.71 16.94h0"/><path id="S5" d="M31.6 14.33h0M32.62 19.66h0M30.88 17h0"/><path id="R0" d="M39.75 24.06h0M45.47 24.43h0M48.56 23.49h0M38.87 24.04h0M36.93 23.45h0M36.36 24.1h0"/><path id="R1" d="M38.5 22.46h0M48.74 21.96h0M45.33 22.35h0M40.27 24.7h0M42.42 24.87h0M46.21 23.68h0"/><path id="R2" d="M37.78 25.49h0M41.07 26.13h0M48.1 21.73h0M37.18 23.47h0M38.47 24.19h0M44.97 22.44h0"/><path id="R3" d="M42.12 23.01h0M40.17 22.29h0M37.96 25.76h0M38.92 25.05h0M44.72 24.48h0M41.31 24.06h0"/><path id="R4" d="M45.54 22h0M41.87 24.73h0M40.77 24.14h0M36.39 23.12h0M43.27 24.53h0M41.5 23.96h0"/><path id="R5" d="M39.35 23.13h0M48.18 23.72h0M47.71 23.17h0M40.04 23.68h0M47.79 22.75h0"/><path id="L0" d="M49.51 79.96h0M47.6 76.48h0M49.62 79.47h0"/><path id="L1" d="M48.55 79.57h0M47.52 78.78h0M49.2 79.87h0"/><path id="L2" d="M47.9 79.08h0M47.47 77.05h0M46.95 76.89h0"/><path id="L3" d="M46.99 76.95h0M47.58 78.99h0M47.86 77.35h0"/><path id="L4" d="M48.24 79.71h0M49.84 80.72h0M47.94 77.51h0"/><path id="L5" d="M49.87 80.24h0M49.16 80.45h0"/><path id="M0" d="M64.11 88.05h0M65.57 90.52h0"/><path id="M1" d="M64.79 89.45h0M65.64 90.3h0"/><path id="M2" d="M63.12 87.4h0M63.98 88.09h0"/><path id="M3" d="M65.4 89.59h0M64.95 89.68h0"/><path id="M4" d="M66.48 90.85h0"/><path id="M5" d="M64.26 89h0"/><path id="I0" d="M65.8 28.6h0"/><path id="I1" d="M66.2 28.9h0"/><path id="I2" d="M65.5 28.2h0"/><path id="I3" d=""/><path id="I4" d=""/><path id="I5" d=""/><path id="N0" d="M55.6 84.4h0M60.9 82.6h0"/><path id="N1" d="M56.4 84h0"/><path id="N2" d="M57.3 84h0"/><path id="N3" d="M58.2 83.6h0"/><path id="N4" d="M59.2 83.2h0"/><path id="N5" d="M60.2 82.8h0"/><path id="oA" d="M30.5 13.5L30.7 13.41L30.94 13.39L31.18 13.44L31.42 13.56L31.63 13.74L31.8 14L31.92 14.35L31.99 14.81L32.04 15.34L32.09 15.9L32.13 16.47L32.2 17L32.29 17.52L32.38 18.06L32.48 18.61L32.58 19.14L32.69 19.64L32.8 20.1L32.88 20.52L32.93 20.91L32.97 21.28L33.07 21.62L33.27 21.93L33.6 22.2L34.1 22.45L34.73 22.69L35.46 22.9L36.24 23.06L37.04 23.17L37.8 23.2L38.53 23.13L39.25 22.96L39.99 22.74L40.75 22.49L41.55 22.27L42.4 22.1L43.39 21.96L44.53 21.81L45.7 21.69L46.81 21.61L47.74 21.6L48.4 21.7L48.75 21.94L48.87 22.31L48.82 22.76L48.65 23.23L48.43 23.66L48.2 24L47.97 24.23L47.68 24.4L47.33 24.54L46.92 24.66L46.45 24.81L45.9 25L45.21 25.24L44.38 25.51L43.48 25.81L42.59 26.11L41.8 26.41L41.2 26.7L40.8 26.95L40.54 27.17L40.39 27.38L40.29 27.63L40.21 27.96L40.1 28.4L39.97 28.97L39.85 29.66L39.75 30.41L39.67 31.21L39.62 32.02L39.6 32.8L39.6 33.57L39.63 34.35L39.67 35.14L39.76 35.93L39.9 36.72L40.1 37.5L40.37 38.3L40.69 39.13L41.06 39.95L41.48 40.74L41.93 41.47L42.4 42.1L42.93 42.6L43.54 42.99L44.19 43.32L44.82 43.63L45.41 43.97L45.9 44.4L46.33 44.92L46.73 45.5L47.08 46.11L47.35 46.73L47.53 47.34L47.6 47.9L47.56 48.43L47.44 48.95L47.22 49.46L46.9 49.94L46.46 50.39L45.9 50.8L45.18 51.18L44.31 51.54L43.33 51.87L42.27 52.16L41.18 52.41L40.1 52.6L39.02 52.75L37.9 52.87L36.74 52.95L35.56 52.97L34.34 52.92L33.1 52.8L31.78 52.6L30.39 52.33L28.96 52L27.55 51.6L26.21 51.13L25 50.6L23.9 49.99L22.86 49.3L21.9 48.54L21.01 47.73L20.21 46.88L19.5 46L18.88 45.09L18.36 44.14L17.92 43.15L17.55 42.13L17.25 41.07L17 40L16.82 38.85L16.73 37.61L16.69 36.34L16.71 35.11L16.75 33.98L16.8 33L16.87 32.2L16.96 31.54L17.08 30.98L17.23 30.48L17.4 30L17.6 29.5L17.81 28.99L18.04 28.51L18.3 28.04L18.59 27.6L18.92 27.19L19.3 26.8L19.74 26.44L20.24 26.1L20.77 25.79L21.34 25.51L21.92 25.24L22.5 25L23.09 24.79L23.72 24.6L24.36 24.44L24.99 24.3L25.61 24.15L26.2 24L26.78 23.88L27.37 23.81L27.95 23.74L28.48 23.63L28.94 23.43L29.3 23.1L29.54 22.59L29.69 21.95L29.76 21.21L29.78 20.44L29.79 19.69L29.8 19L29.79 18.36L29.74 17.73L29.68 17.12L29.61 16.53L29.58 15.99L29.6 15.5L29.68 15.05L29.8 14.63L29.96 14.25L30.13 13.93L30.31 13.67Z"/><path id="oB" d="M50.5 32.5L50.74 32.13L51.06 31.87L51.43 31.72L51.82 31.69L52.19 31.78L52.5 32L52.77 32.38L53.03 32.93L53.27 33.59L53.49 34.35L53.67 35.17L53.8 36L53.9 36.95L53.98 38.07L54.02 39.25L54.02 40.37L53.95 41.32L53.8 42L53.54 42.41L53.16 42.63L52.72 42.69L52.27 42.59L51.85 42.36L51.5 42L51.22 41.45L50.97 40.69L50.74 39.78L50.56 38.81L50.41 37.86L50.3 37L50.23 36.17L50.2 35.31L50.2 34.47L50.25 33.69L50.35 33.01Z"/><path id="oC" d="M62.4 49.2L62.43 48.69L62.57 48.06L62.82 47.38L63.16 46.69L63.56 46.04L64 45.5L64.52 45.03L65.13 44.6L65.81 44.21L66.51 43.88L67.22 43.64L67.9 43.5L68.6 43.47L69.36 43.54L70.11 43.69L70.81 43.91L71.39 44.18L71.8 44.5L72.03 44.89L72.13 45.37L72.11 45.91L71.99 46.46L71.78 47.01L71.5 47.5L71.1 47.97L70.57 48.43L69.95 48.89L69.29 49.31L68.62 49.69L68 50L67.4 50.26L66.78 50.48L66.16 50.66L65.56 50.77L65 50.83L64.5 50.8L64.03 50.7L63.56 50.52L63.13 50.28L62.77 49.98L62.52 49.62Z"/><path id="oD" d="M8.3 59.2L8.99 58.55L9.83 58.06L10.77 57.71L11.77 57.46L12.8 57.27L13.8 57.1L14.79 56.98L15.81 56.95L16.84 56.98L17.89 57.05L18.95 57.13L20 57.2L21.07 57.21L22.15 57.18L23.24 57.16L24.33 57.21L25.38 57.4L26.4 57.8L27.42 58.4L28.45 59.14L29.46 60.03L30.4 61.04L31.23 62.17L31.9 63.4L32.39 64.78L32.75 66.33L32.99 67.99L33.14 69.71L33.24 71.43L33.3 73.1L33.33 74.76L33.3 76.47L33.21 78.17L33.07 79.84L32.86 81.43L32.6 82.9L32.29 84.26L31.95 85.56L31.54 86.77L31.06 87.89L30.49 88.9L29.8 89.8L28.99 90.59L28.07 91.28L27.05 91.87L25.96 92.34L24.8 92.69L23.6 92.9L22.27 92.95L20.78 92.86L19.23 92.63L17.72 92.31L16.34 91.92L15.2 91.5L14.33 91.03L13.67 90.47L13.14 89.86L12.68 89.18L12.22 88.46L11.7 87.7L11.12 86.89L10.53 86.02L9.94 85.11L9.36 84.16L8.81 83.18L8.3 82.2L7.81 81.17L7.33 80.08L6.88 78.97L6.46 77.87L6.1 76.84L5.8 75.9L5.57 75.09L5.39 74.4L5.26 73.76L5.18 73.13L5.16 72.46L5.2 71.7L5.31 70.86L5.51 69.99L5.76 69.07L6.04 68.11L6.33 67.12L6.6 66.1L6.82 64.97L7 63.72L7.19 62.43L7.44 61.19L7.79 60.09Z"/><path id="oE" d="M34 64.2L34.29 63.95L34.71 63.84L35.22 63.84L35.76 63.89L36.3 63.96L36.8 64L37.27 64.01L37.74 64.03L38.21 64.06L38.66 64.12L39.1 64.23L39.5 64.4L39.89 64.63L40.27 64.9L40.63 65.23L40.95 65.6L41.21 66.02L41.4 66.5L41.52 67.09L41.58 67.79L41.58 68.54L41.52 69.28L41.4 69.96L41.2 70.5L40.91 70.92L40.54 71.26L40.1 71.54L39.61 71.75L39.11 71.9L38.6 72L38.05 72.05L37.44 72.06L36.8 72.01L36.19 71.89L35.64 71.69L35.2 71.4L34.89 71L34.66 70.49L34.5 69.9L34.39 69.27L34.29 68.62L34.2 68L34.09 67.35L33.96 66.63L33.86 65.9L33.81 65.21L33.85 64.63Z"/><path id="oF" d="M49.8 69.5L49.86 68.8L50.1 67.99L50.48 67.13L50.95 66.27L51.47 65.48L52 64.8L52.54 64.23L53.13 63.73L53.76 63.29L54.45 62.9L55.2 62.58L56 62.3L56.88 62.08L57.85 61.93L58.88 61.83L59.93 61.78L60.98 61.77L62 61.8L63.04 61.85L64.13 61.93L65.22 62.05L66.26 62.23L67.2 62.47L68 62.8L68.66 63.22L69.22 63.71L69.69 64.27L70.06 64.89L70.33 65.57L70.5 66.3L70.59 67.13L70.59 68.09L70.5 69.11L70.3 70.11L69.97 71.03L69.5 71.8L68.86 72.43L68.06 72.98L67.12 73.45L66.11 73.84L65.06 74.16L64 74.4L62.89 74.56L61.69 74.64L60.44 74.64L59.2 74.57L58.04 74.46L57 74.3L56.08 74.09L55.25 73.8L54.48 73.47L53.77 73.1L53.12 72.7L52.5 72.3L51.89 71.9L51.29 71.5L50.73 71.07L50.27 70.6L49.95 70.09Z"/><path id="oG" d="M38.2 96L38.37 95.44L38.67 95.06L39.06 94.81L39.52 94.67L40.01 94.58L40.5 94.5L41.02 94.44L41.61 94.43L42.23 94.47L42.86 94.57L43.45 94.75L44 95L44.52 95.34L45.04 95.76L45.54 96.25L45.99 96.8L46.35 97.38L46.6 98L46.75 98.7L46.81 99.49L46.79 100.33L46.69 101.15L46.49 101.89L46.2 102.5L45.77 102.98L45.19 103.4L44.53 103.74L43.82 103.99L43.13 104.15L42.5 104.2L41.91 104.17L41.32 104.06L40.74 103.86L40.19 103.55L39.71 103.1L39.3 102.5L38.96 101.64L38.65 100.5L38.41 99.24L38.24 97.97L38.16 96.85Z"/><filter id="bl" x="-5%" y="-5%" width="110%" height="110%"><feGaussianBlur stdDeviation="0.2"/></filter><filter id="tb" x="-10%" y="-20%" width="120%" height="140%"><feGaussianBlur stdDeviation="0.22"/></filter></defs><rect width="431" height="550" fill="#fff"/><rect x="16.5" y="4.8" width="392.4" height="211.2" fill="#EBEBEB"/>
<line x1="16.5" x2="408.9" y1="12.6" y2="12.6" stroke="#F1F1F1" stroke-width="0.45"/>
<line x1="16.5" x2="408.9" y1="66" y2="66" stroke="#F1F1F1" stroke-width="0.45"/>
<line x1="16.5" x2="408.9" y1="119.4" y2="119.4" stroke="#F1F1F1" stroke-width="0.45"/>
<line x1="16.5" x2="408.9" y1="172.8" y2="172.8" stroke="#F1F1F1" stroke-width="0.45"/>
<line x1="16.5" x2="408.9" y1="39.3" y2="39.3" stroke="#F7F7F7" stroke-width="0.65"/>
<line x1="16.5" x2="408.9" y1="92.7" y2="92.7" stroke="#F7F7F7" stroke-width="0.65"/>
<line x1="16.5" x2="408.9" y1="146.1" y2="146.1" stroke="#F7F7F7" stroke-width="0.65"/>
<line x1="16.5" x2="408.9" y1="199.5" y2="199.5" stroke="#F7F7F7" stroke-width="0.65"/>
<line x1="49.35" x2="49.35" y1="4.8" y2="216" stroke="#F7F7F7" stroke-width="0.65"/>
<line x1="103.85" x2="103.85" y1="4.8" y2="216" stroke="#F7F7F7" stroke-width="0.65"/>
<line x1="158.35" x2="158.35" y1="4.8" y2="216" stroke="#F7F7F7" stroke-width="0.65"/>
<line x1="212.85" x2="212.85" y1="4.8" y2="216" stroke="#F7F7F7" stroke-width="0.65"/>
<line x1="267.35" x2="267.35" y1="4.8" y2="216" stroke="#F7F7F7" stroke-width="0.65"/>
<line x1="321.85" x2="321.85" y1="4.8" y2="216" stroke="#F7F7F7" stroke-width="0.65"/>
<line x1="376.35" x2="376.35" y1="4.8" y2="216" stroke="#F7F7F7" stroke-width="0.65"/>
<rect x="28.91" y="84.5" width="40.88" height="68.9" fill="#FFFFFF" stroke="#777" stroke-width="0.5"/>
<line x1="28.91" x2="69.79" y1="119.6" y2="119.6" stroke="#444" stroke-width="0.75"/>
<g stroke="#5a5a5a" stroke-width="0.6" fill="none">
<line x1="49.35" x2="49.35" y1="49.4" y2="174.1"/>
<line x1="45.55" x2="53.15" y1="49.4" y2="49.4"/>
<line x1="45.55" x2="53.15" y1="174.1" y2="174.1"/>
</g>
<rect x="83.41" y="38.4" width="40.88" height="50.5" fill="#FFFFFF" stroke="#777" stroke-width="0.5"/>
<line x1="83.41" x2="124.29" y1="55.6" y2="55.6" stroke="#444" stroke-width="0.75"/>
<g stroke="#5a5a5a" stroke-width="0.6" fill="none">
<line x1="103.85" x2="103.85" y1="19.8" y2="116.6"/>
<line x1="100.05" x2="107.65" y1="19.8" y2="19.8"/>
<line x1="100.05" x2="107.65" y1="116.6" y2="116.6"/>
</g>
<rect x="137.91" y="77.4" width="40.88" height="71.8" fill="#FFFFFF" stroke="#777" stroke-width="0.5"/>
<line x1="137.91" x2="178.79" y1="102.7" y2="102.7" stroke="#444" stroke-width="0.75"/>
<g stroke="#5a5a5a" stroke-width="0.6" fill="none">
<line x1="158.35" x2="158.35" y1="19.3" y2="173"/>
<line x1="154.55" x2="162.15" y1="19.3" y2="19.3"/>
<line x1="154.55" x2="162.15" y1="173" y2="173"/>
</g>
<rect x="192.41" y="43.3" width="40.88" height="73.6" fill="#FFFFFF" stroke="#777" stroke-width="0.5"/>
<line x1="192.41" x2="233.29" y1="60" y2="60" stroke="#444" stroke-width="0.75"/>
<g stroke="#5a5a5a" stroke-width="0.6" fill="none">
<line x1="212.85" x2="212.85" y1="14" y2="166.4"/>
<line x1="209.05" x2="216.65" y1="14" y2="14"/>
<line x1="209.05" x2="216.65" y1="166.4" y2="166.4"/>
</g>
<rect x="246.91" y="155.6" width="40.88" height="44.7" fill="#FFFFFF" stroke="#777" stroke-width="0.5"/>
<line x1="246.91" x2="287.79" y1="188.3" y2="188.3" stroke="#444" stroke-width="0.75"/>
<g stroke="#5a5a5a" stroke-width="0.6" fill="none">
<line x1="267.35" x2="267.35" y1="135.3" y2="206.2"/>
<line x1="263.55" x2="271.15" y1="135.3" y2="135.3"/>
<line x1="263.55" x2="271.15" y1="206.2" y2="206.2"/>
</g>
<rect x="301.41" y="64" width="40.88" height="50.1" fill="#FFFFFF" stroke="#777" stroke-width="0.5"/>
<line x1="301.41" x2="342.29" y1="91.6" y2="91.6" stroke="#444" stroke-width="0.75"/>
<g stroke="#5a5a5a" stroke-width="0.6" fill="none">
<line x1="321.85" x2="321.85" y1="17.4" y2="158.3"/>
<line x1="318.05" x2="325.65" y1="17.4" y2="17.4"/>
<line x1="318.05" x2="325.65" y1="158.3" y2="158.3"/>
</g>
<rect x="355.91" y="53.9" width="40.88" height="81.5" fill="#FFFFFF" stroke="#777" stroke-width="0.5"/>
<line x1="355.91" x2="396.79" y1="104.3" y2="104.3" stroke="#444" stroke-width="0.75"/>
<g stroke="#5a5a5a" stroke-width="0.6" fill="none">
<line x1="376.35" x2="376.35" y1="21.7" y2="194.5"/>
<line x1="372.55" x2="380.15" y1="21.7" y2="21.7"/>
<line x1="372.55" x2="380.15" y1="194.5" y2="194.5"/>
</g>
<line x1="16.5" x2="408.9" y1="71" y2="71" stroke="#D06474" stroke-width="0.9" stroke-dasharray="1.05 1.05" opacity="0.6"/>
<line x1="15.2" x2="16.5" y1="39.3" y2="39.3" stroke="#888" stroke-width="0.5"/>
<text x="15.3" y="40.3" font-size="2.8" fill="#4a4a4a" text-anchor="end" text-rendering="geometricPrecision" filter="url(#tb)">0.75</text>
<line x1="15.2" x2="16.5" y1="92.7" y2="92.7" stroke="#888" stroke-width="0.5"/>
<text x="15.3" y="93.7" font-size="2.8" fill="#4a4a4a" text-anchor="end" text-rendering="geometricPrecision" filter="url(#tb)">0.50</text>
<line x1="15.2" x2="16.5" y1="146.1" y2="146.1" stroke="#888" stroke-width="0.5"/>
<text x="15.3" y="147.1" font-size="2.8" fill="#4a4a4a" text-anchor="end" text-rendering="geometricPrecision" filter="url(#tb)">0.25</text>
<line x1="15.2" x2="16.5" y1="199.5" y2="199.5" stroke="#888" stroke-width="0.5"/>
<text x="15.3" y="200.5" font-size="2.8" fill="#4a4a4a" text-anchor="end" text-rendering="geometricPrecision" filter="url(#tb)">0.00</text>
<line x1="49.35" x2="49.35" y1="216" y2="217.3" stroke="#888" stroke-width="0.5"/>
<line x1="103.85" x2="103.85" y1="216" y2="217.3" stroke="#888" stroke-width="0.5"/>
<line x1="158.35" x2="158.35" y1="216" y2="217.3" stroke="#888" stroke-width="0.5"/>
<line x1="212.85" x2="212.85" y1="216" y2="217.3" stroke="#888" stroke-width="0.5"/>
<line x1="267.35" x2="267.35" y1="216" y2="217.3" stroke="#888" stroke-width="0.5"/>
<line x1="321.85" x2="321.85" y1="216" y2="217.3" stroke="#888" stroke-width="0.5"/>
<line x1="376.35" x2="376.35" y1="216" y2="217.3" stroke="#888" stroke-width="0.5"/>
<text transform="translate(49.55 229.7) rotate(-45)" y="2.1" font-size="5.9" fill="#4a4a4a" text-anchor="middle">Raw</text>
<text transform="translate(104.05 229.7) rotate(-45)" y="2.1" font-size="5.9" fill="#4a4a4a" text-anchor="middle">scSDAE</text>
<text transform="translate(158.55 229.7) rotate(-45)" y="2.1" font-size="5.9" fill="#4a4a4a" text-anchor="middle">scImpute</text>
<text transform="translate(213.05 229.7) rotate(-45)" y="2.1" font-size="5.9" fill="#4a4a4a" text-anchor="middle">MAGIC</text>
<text transform="translate(267.55 229.7) rotate(-45)" y="2.1" font-size="5.9" fill="#4a4a4a" text-anchor="middle">SDAE0</text>
<text transform="translate(322.05 229.7) rotate(-45)" y="2.1" font-size="5.9" fill="#4a4a4a" text-anchor="middle">SDAE</text>
<text transform="translate(376.55 229.7) rotate(-45)" y="2.1" font-size="5.9" fill="#4a4a4a" text-anchor="middle">DCA</text>
<text transform="translate(8.8 110) rotate(-90)" font-size="8.1" fill="#111" stroke="#111" stroke-width="0.05" text-anchor="middle">Spearman correlation</text>
<text x="218.2" y="266" font-family="Liberation Serif" font-weight="bold" font-size="10" fill="#000" text-anchor="middle">(a)</text>
<text x="218.2" y="544.4" font-family="Liberation Serif" font-weight="bold" font-size="10" fill="#000" text-anchor="middle">(b)</text>
<g transform="translate(17.4 280)">
<g filter="url(#bl)">
<use href="#oD" fill="#F4F2F6"/>
<use href="#oE" fill="#F1EFF6"/>
<use href="#oG" fill="#DFDBF6"/>
<use href="#oC" fill="#F0EEF4"/>
<use href="#oF" fill="#E5E1F6"/>
<use href="#oB" fill="#C1B7F4"/>
<use href="#oA" fill="#D2CBF4"/>
<g stroke-width="0.9" stroke-linecap="round" fill="none">
<use href="#D0" stroke="#E7E4ED"/>
<use href="#D1" stroke="#E3E0EA"/>
<use href="#D2" stroke="#E0DCE8"/>
<use href="#D3" stroke="#DDD9E5"/>
<use href="#D4" stroke="#D9D5E3"/>
<use href="#D5" stroke="#D6D1E0"/>
<use href="#E0" stroke="#E0DDEA"/>
<use href="#E1" stroke="#DCD8E8"/>
<use href="#E2" stroke="#D8D4E5"/>
<use href="#E3" stroke="#D4CFE2"/>
<use href="#E4" stroke="#D0CBDF"/>
<use href="#E5" stroke="#CCC6DD"/>
<use href="#G0" stroke="#BAB1EA"/>
<use href="#G1" stroke="#B1A6E8"/>
<use href="#G2" stroke="#A89CE5"/>
<use href="#G3" stroke="#9F91E2"/>
<use href="#G4" stroke="#9687DF"/>
<use href="#G5" stroke="#8D7CDD"/>
<use href="#J0" stroke="#AFA4EB"/>
<use href="#J1" stroke="#A497E8"/>
<use href="#J2" stroke="#9A8BE5"/>
<use href="#J3" stroke="#8F7FE2"/>
<use href="#J4" stroke="#8473E0"/>
<use href="#J5" stroke="#7A67DD"/>
<use href="#I0" stroke="#D2D0E2"/>
<use href="#I1" stroke="#CCCADE"/>
<use href="#I2" stroke="#C6C3DA"/>
<use href="#I3" stroke="#BFBDD6"/>
<use href="#I4" stroke="#B9B7D2"/>
<use href="#I5" stroke="#B3B0CE"/>
<use href="#L0" stroke="#D2CDE3"/>
<use href="#L1" stroke="#CCC7E0"/>
<use href="#L2" stroke="#C6C0DC"/>
<use href="#L3" stroke="#C0BAD8"/>
<use href="#L4" stroke="#BAB3D5"/>
<use href="#L5" stroke="#B4ACD1"/>
<use href="#M0" stroke="#D6D5E3"/>
<use href="#M1" stroke="#D1CFE0"/>
<use href="#M2" stroke="#CBC9DC"/>
<use href="#M3" stroke="#C6C4D8"/>
<use href="#M4" stroke="#C0BED5"/>
<use href="#M5" stroke="#BBB9D1"/>
<use href="#N0" stroke="#6E61E6"/>
<use href="#N1" stroke="#5B4CE3"/>
<use href="#N2" stroke="#4737DF"/>
<use href="#N3" stroke="#3422DC"/>
<use href="#N4" stroke="#210DD9"/>
<use href="#N5" stroke="#0D00D5"/>
<use href="#C0" stroke="#DEDBE8"/>
<use href="#C1" stroke="#DAD6E5"/>
<use href="#C2" stroke="#D5D1E2"/>
<use href="#C3" stroke="#D1CCDF"/>
<use href="#C4" stroke="#CDC8DC"/>
<use href="#C5" stroke="#C8C3D9"/>
<use href="#F0" stroke="#C6BEED"/>
<use href="#F1" stroke="#BFB5EA"/>
<use href="#F2" stroke="#B7ADE8"/>
<use href="#F3" stroke="#B0A4E5"/>
<use href="#F4" stroke="#A89BE3"/>
<use href="#F5" stroke="#A193E0"/>
<use href="#B0" stroke="#7863E6"/>
<use href="#B1" stroke="#664EE3"/>
<use href="#B2" stroke="#543ADF"/>
<use href="#B3" stroke="#4225DC"/>
<use href="#B4" stroke="#3010D9"/>
<use href="#B5" stroke="#1E00D5"/>
<use href="#H0" stroke="#4D3DE3"/>
<use href="#H1" stroke="#3623E0"/>
<use href="#H2" stroke="#1E09DC"/>
<use href="#H3" stroke="#0600D8"/>
<use href="#H4" stroke="#0000D5"/>
<use href="#H5" stroke="#0000D1"/>
<use href="#K0" stroke="#9E8DE8"/>
<use href="#K1" stroke="#917EE5"/>
<use href="#K2" stroke="#846FE2"/>
<use href="#K3" stroke="#7760DF"/>
<use href="#K4" stroke="#6A51DC"/>
<use href="#K5" stroke="#5E41D9"/>
<use href="#A0" stroke="#9E8DE8"/>
<use href="#A1" stroke="#917EE5"/>
<use href="#A2" stroke="#846FE2"/>
<use href="#A3" stroke="#7760DF"/>
<use href="#A4" stroke="#6A51DC"/>
<use href="#A5" stroke="#5E41D9"/>
<use href="#S0" stroke="#9E8DE8"/>
<use href="#S1" stroke="#917EE5"/>
<use href="#S2" stroke="#846FE2"/>
<use href="#S3" stroke="#7760DF"/>
<use href="#S4" stroke="#6A51DC"/>
<use href="#S5" stroke="#5E41D9"/>
<use href="#R0" stroke="#9E8DE8"/>
<use href="#R1" stroke="#917EE5"/>
<use href="#R2" stroke="#846FE2"/>
<use href="#R3" stroke="#7760DF"/>
<use href="#R4" stroke="#6A51DC"/>
<use href="#R5" stroke="#5E41D9"/>
</g></g>
<g filter="url(#tb)">
<path d="M0 9V109.6H76.5" fill="none" stroke="#7a7a7a" stroke-width="0.55"/>
<line x1="-1.3" x2="0" y1="12.3" y2="12.3" stroke="#7a7a7a" stroke-width="0.45"/>
<text x="-1.6" y="14.2" font-size="3.4" fill="#111" stroke="#111" stroke-width="0.1" text-anchor="end">50</text>
<line x1="-1.3" x2="0" y1="37" y2="37" stroke="#7a7a7a" stroke-width="0.45"/>
<text x="-1.6" y="38.9" font-size="3.4" fill="#111" stroke="#111" stroke-width="0.1" text-anchor="end">25</text>
<line x1="-1.3" x2="0" y1="61.6" y2="61.6" stroke="#7a7a7a" stroke-width="0.45"/>
<text x="-1.6" y="63.5" font-size="3.4" fill="#111" stroke="#111" stroke-width="0.1" text-anchor="end">0</text>
<line x1="-1.3" x2="0" y1="86.2" y2="86.2" stroke="#7a7a7a" stroke-width="0.45"/>
<text x="-1.6" y="88.1" font-size="3.4" fill="#111" stroke="#111" stroke-width="0.1" text-anchor="end">-25</text>
<line x1="17.2" x2="17.2" y1="109.6" y2="110.9" stroke="#7a7a7a" stroke-width="0.45"/>
<text x="16.8" y="114.4" font-size="3.4" fill="#111" stroke="#111" stroke-width="0.1" text-anchor="middle">-20</text>
<line x1="35.2" x2="35.2" y1="109.6" y2="110.9" stroke="#7a7a7a" stroke-width="0.45"/>
<text x="34.8" y="114.4" font-size="3.4" fill="#111" stroke="#111" stroke-width="0.1" text-anchor="middle">0</text>
<line x1="53.1" x2="53.1" y1="109.6" y2="110.9" stroke="#7a7a7a" stroke-width="0.45"/>
<text x="52.7" y="114.4" font-size="3.4" fill="#111" stroke="#111" stroke-width="0.1" text-anchor="middle">20</text>
<line x1="71.5" x2="71.5" y1="109.6" y2="110.9" stroke="#7a7a7a" stroke-width="0.45"/>
<text x="71.1" y="114.4" font-size="3.4" fill="#111" stroke="#111" stroke-width="0.1" text-anchor="middle">40</text>
<text x="38" y="118.6" font-size="3.6" fill="#111" stroke="#111" stroke-width="0.1" text-anchor="middle">tSNE_1</text>
<text transform="translate(-7.6 59.5) rotate(-90)" font-size="3.6" fill="#111" stroke="#111" stroke-width="0.1" text-anchor="middle">tSNE_2</text>
<text x="38" y="6.6" font-size="4.7" font-weight="bold" fill="#000" stroke="#000" stroke-width="0.12" text-anchor="middle" textLength="21.9" lengthAdjust="spacingAndGlyphs">adt_CD11c</text>
<rect x="79.8" y="50.1" width="3.9" height="19.9" fill="url(#cb)"/>
<text x="85.4" y="55" font-size="3.6" fill="#444" stroke="#444" stroke-width="0.06">2.0</text>
<text x="85.4" y="59.5" font-size="3.6" fill="#444" stroke="#444" stroke-width="0.06">1.5</text>
<text x="85.4" y="63.6" font-size="3.6" fill="#444" stroke="#444" stroke-width="0.06">1.0</text>
<text x="85.4" y="68" font-size="3.6" fill="#444" stroke="#444" stroke-width="0.06">0.5</text>
</g>
</g>
<g transform="translate(124.1 280)">
<g filter="url(#bl)">
<use href="#oD" fill="#F3F3F4"/>
<use href="#oE" fill="#F2F1F3"/>
<use href="#oG" fill="#F2F1F3"/>
<use href="#oC" fill="#F2F1F3"/>
<use href="#oF" fill="#EFEEF4"/>
<use href="#oB" fill="#EEEDF4"/>
<use href="#oA" fill="#EFEEF4"/>
<g stroke-width="0.9" stroke-linecap="round" fill="none">
<use href="#D0" stroke="#E5E5E6"/>
<use href="#D1" stroke="#E2E1E3"/>
<use href="#D2" stroke="#DEDEDF"/>
<use href="#D3" stroke="#DBDADC"/>
<use href="#D4" stroke="#D7D7D9"/>
<use href="#D5" stroke="#D4D3D5"/>
<use href="#E0" stroke="#E2E2E5"/>
<use href="#E1" stroke="#DEDEE1"/>
<use href="#E2" stroke="#DADADE"/>
<use href="#E3" stroke="#D6D6DA"/>
<use href="#E4" stroke="#D2D2D7"/>
<use href="#E5" stroke="#CECED4"/>
<use href="#G0" stroke="#E2E2E5"/>
<use href="#G1" stroke="#DEDEE1"/>
<use href="#G2" stroke="#DADADE"/>
<use href="#G3" stroke="#D6D6DA"/>
<use href="#G4" stroke="#D2D2D7"/>
<use href="#G5" stroke="#CECED4"/>
<use href="#J0" stroke="#DFDFE2"/>
<use href="#J1" stroke="#DBDADE"/>
<use href="#J2" stroke="#D6D6DB"/>
<use href="#J3" stroke="#D2D2D7"/>
<use href="#J4" stroke="#CECDD3"/>
<use href="#J5" stroke="#C9C9CF"/>
<use href="#I0" stroke="#E0DFE3"/>
<use href="#I1" stroke="#DCDBDF"/>
<use href="#I2" stroke="#D7D7DB"/>
<use href="#I3" stroke="#D3D3D7"/>
<use href="#I4" stroke="#CFCFD4"/>
<use href="#I5" stroke="#CBCAD0"/>
<use href="#L0" stroke="#D6D5E1"/>
<use href="#L1" stroke="#D0CFDD"/>
<use href="#L2" stroke="#CBC9D9"/>
<use href="#L3" stroke="#C6C4D5"/>
<use href="#L4" stroke="#C0BED1"/>
<use href="#L5" stroke="#BBB9CD"/>
<use href="#M0" stroke="#DADAE1"/>
<use href="#M1" stroke="#D5D5DD"/>
<use href="#M2" stroke="#D1D0D9"/>
<use href="#M3" stroke="#CCCBD5"/>
<use href="#M4" stroke="#C7C6D1"/>
<use href="#M5" stroke="#C2C1CD"/>
<use href="#N0" stroke="#D6D4E6"/>
<use href="#N1" stroke="#D1CFE3"/>
<use href="#N2" stroke="#CBC9DF"/>
<use href="#N3" stroke="#C6C3DC"/>
<use href="#N4" stroke="#C0BDD9"/>
<use href="#N5" stroke="#BBB8D5"/>
<use href="#C0" stroke="#E2E2E5"/>
<use href="#C1" stroke="#DEDEE1"/>
<use href="#C2" stroke="#DADADE"/>
<use href="#C3" stroke="#D6D6DA"/>
<use href="#C4" stroke="#D2D2D7"/>
<use href="#C5" stroke="#CECED4"/>
<use href="#F0" stroke="#DCDBE6"/>
<use href="#F1" stroke="#D7D6E3"/>
<use href="#F2" stroke="#D3D1DF"/>
<use href="#F3" stroke="#CECCDC"/>
<use href="#F4" stroke="#C9C8D9"/>
<use href="#F5" stroke="#B0B0F0"/>
<use href="#B0" stroke="#DAD9E6"/>
<use href="#B1" stroke="#D5D4E3"/>
<use href="#B2" stroke="#D0CEDF"/>
<use href="#B3" stroke="#CBC9DC"/>
<use href="#B4" stroke="#C6C4D9"/>
<use href="#B5" stroke="#A0A0F0"/>
<use href="#H0" stroke="#D2D0E6"/>
<use href="#H1" stroke="#CCC9E2"/>
<use href="#H2" stroke="#C6C3DF"/>
<use href="#H3" stroke="#C0BDDC"/>
<use href="#H4" stroke="#BAB7D8"/>
<use href="#H5" stroke="#B4B0D5"/>
<use href="#K0" stroke="#DCDBE6"/>
<use href="#K1" stroke="#D7D6E3"/>
<use href="#K2" stroke="#D3D1DF"/>
<use href="#K3" stroke="#CECCDC"/>
<use href="#K4" stroke="#C9C8D9"/>
<use href="#K5" stroke="#A8A8F0"/>
<use href="#A0" stroke="#DCDBE6"/>
<use href="#A1" stroke="#D7D6E3"/>
<use href="#A2" stroke="#D3D1DF"/>
<use href="#A3" stroke="#CECCDC"/>
<use href="#A4" stroke="#C9C8D9"/>
<use href="#A5" stroke="#A8A8F0"/>
<use href="#S0" stroke="#DCDBE6"/>
<use href="#S1" stroke="#D7D6E3"/>
<use href="#S2" stroke="#D3D1DF"/>
<use href="#S3" stroke="#CECCDC"/>
<use href="#S4" stroke="#C9C8D9"/>
<use href="#S5" stroke="#A8A8F0"/>
<use href="#R0" stroke="#DCDBE6"/>
<use href="#R1" stroke="#D7D6E3"/>
<use href="#R2" stroke="#D3D1DF"/>
<use href="#R3" stroke="#CECCDC"/>
<use href="#R4" stroke="#C9C8D9"/>
<use href="#R5" stroke="#A8A8F0"/>
</g></g>
<g filter="url(#tb)">
<path d="M0 9V109.6H76.5" fill="none" stroke="#7a7a7a" stroke-width="0.55"/>
<line x1="-1.3" x2="0" y1="12.3" y2="12.3" stroke="#7a7a7a" stroke-width="0.45"/>
<text x="-1.6" y="14.2" font-size="3.4" fill="#111" stroke="#111" stroke-width="0.1" text-anchor="end">50</text>
<line x1="-1.3" x2="0" y1="37" y2="37" stroke="#7a7a7a" stroke-width="0.45"/>
<text x="-1.6" y="38.9" font-size="3.4" fill="#111" stroke="#111" stroke-width="0.1" text-anchor="end">25</text>
<line x1="-1.3" x2="0" y1="61.6" y2="61.6" stroke="#7a7a7a" stroke-width="0.45"/>
<text x="-1.6" y="63.5" font-size="3.4" fill="#111" stroke="#111" stroke-width="0.1" text-anchor="end">0</text>
<line x1="-1.3" x2="0" y1="86.2" y2="86.2" stroke="#7a7a7a" stroke-width="0.45"/>
<text x="-1.6" y="88.1" font-size="3.4" fill="#111" stroke="#111" stroke-width="0.1" text-anchor="end">-25</text>
<line x1="17.2" x2="17.2" y1="109.6" y2="110.9" stroke="#7a7a7a" stroke-width="0.45"/>
<text x="16.8" y="114.4" font-size="3.4" fill="#111" stroke="#111" stroke-width="0.1" text-anchor="middle">-20</text>
<line x1="35.2" x2="35.2" y1="109.6" y2="110.9" stroke="#7a7a7a" stroke-width="0.45"/>
<text x="34.8" y="114.4" font-size="3.4" fill="#111" stroke="#111" stroke-width="0.1" text-anchor="middle">0</text>
<line x1="53.1" x2="53.1" y1="109.6" y2="110.9" stroke="#7a7a7a" stroke-width="0.45"/>
<text x="52.7" y="114.4" font-size="3.4" fill="#111" stroke="#111" stroke-width="0.1" text-anchor="middle">20</text>
<line x1="71.5" x2="71.5" y1="109.6" y2="110.9" stroke="#7a7a7a" stroke-width="0.45"/>
<text x="71.1" y="114.4" font-size="3.4" fill="#111" stroke="#111" stroke-width="0.1" text-anchor="middle">40</text>
<text x="38" y="118.6" font-size="3.6" fill="#111" stroke="#111" stroke-width="0.1" text-anchor="middle">tSNE_1</text>
<text transform="translate(-7.6 59.5) rotate(-90)" font-size="3.6" fill="#111" stroke="#111" stroke-width="0.1" text-anchor="middle">tSNE_2</text>
<text x="38" y="6.6" font-size="4.7" font-weight="bold" fill="#000" stroke="#000" stroke-width="0.12" text-anchor="middle" textLength="13.3" lengthAdjust="spacingAndGlyphs">ITGAX</text>
<rect x="79.8" y="50.1" width="3.9" height="19.9" fill="url(#cb)"/>
<text x="85.4" y="56.4" font-size="3.6" fill="#444" stroke="#444" stroke-width="0.06">2.0</text>
<text x="85.4" y="60.8" font-size="3.6" fill="#444" stroke="#444" stroke-width="0.06">1.6</text>
<text x="85.4" y="65.4" font-size="3.6" fill="#444" stroke="#444" stroke-width="0.06">1.2</text>
<text x="85.4" y="70" font-size="3.6" fill="#444" stroke="#444" stroke-width="0.06">0.8</text>
</g>
</g>
<g transform="translate(230.7 280)">
<g filter="url(#bl)">
<use href="#oD" fill="#F3F3F4"/>
<use href="#oE" fill="#F2F1F3"/>
<use href="#oG" fill="#F1F0F2"/>
<use href="#oC" fill="#F1F1F2"/>
<use href="#oF" fill="#D7D1F6"/>
<use href="#oB" fill="#C1B7F4"/>
<use href="#oA" fill="#D0C8F4"/>
<g stroke-width="0.9" stroke-linecap="round" fill="none">
<use href="#D0" stroke="#E5E5E6"/>
<use href="#D1" stroke="#E2E1E3"/>
<use href="#D2" stroke="#DEDEDF"/>
<use href="#D3" stroke="#DBDADC"/>
<use href="#D4" stroke="#D7D7D9"/>
<use href="#D5" stroke="#D4D3D5"/>
<use href="#E0" stroke="#E2E2E5"/>
<use href="#E1" stroke="#DEDEE1"/>
<use href="#E2" stroke="#DADADE"/>
<use href="#E3" stroke="#D6D6DA"/>
<use href="#E4" stroke="#D2D2D7"/>
<use href="#E5" stroke="#CECED4"/>
<use href="#G0" stroke="#E0DFE3"/>
<use href="#G1" stroke="#DCDBDF"/>
<use href="#G2" stroke="#D7D7DB"/>
<use href="#G3" stroke="#D3D3D7"/>
<use href="#G4" stroke="#CFCFD4"/>
<use href="#G5" stroke="#CBCAD0"/>
<use href="#J0" stroke="#C0BCE8"/>
<use href="#J1" stroke="#B8B3E5"/>
<use href="#J2" stroke="#B0AAE2"/>
<use href="#J3" stroke="#A7A1DF"/>
<use href="#J4" stroke="#9F98DC"/>
<use href="#J5" stroke="#9790D9"/>
<use href="#I0" stroke="#988BE8"/>
<use href="#I1" stroke="#8A7CE5"/>
<use href="#I2" stroke="#7D6CE2"/>
<use href="#I3" stroke="#6F5DDF"/>
<use href="#I4" stroke="#614DDC"/>
<use href="#I5" stroke="#543ED9"/>
<use href="#L0" stroke="#715AE6"/>
<use href="#L1" stroke="#5E44E2"/>
<use href="#L2" stroke="#4B2EDF"/>
<use href="#L3" stroke="#3818DC"/>
<use href="#L4" stroke="#2502D8"/>
<use href="#L5" stroke="#1200D5"/>
<use href="#M0" stroke="#D6D5E1"/>
<use href="#M1" stroke="#D0CFDD"/>
<use href="#M2" stroke="#CBC9D9"/>
<use href="#M3" stroke="#C6C4D5"/>
<use href="#M4" stroke="#C0BED1"/>
<use href="#M5" stroke="#BBB9CD"/>
<use href="#N0" stroke="#D6D4E4"/>
<use href="#N1" stroke="#D0CFE0"/>
<use href="#N2" stroke="#CBC9DD"/>
<use href="#N3" stroke="#C5C3D9"/>
<use href="#N4" stroke="#C0BED5"/>
<use href="#N5" stroke="#BAB8D2"/>
<use href="#C0" stroke="#E1E0E4"/>
<use href="#C1" stroke="#DDDCE0"/>
<use href="#C2" stroke="#D9D8DD"/>
<use href="#C3" stroke="#D5D4D9"/>
<use href="#C4" stroke="#D1D0D5"/>
<use href="#C5" stroke="#CDCCD2"/>
<use href="#F0" stroke="#A89AED"/>
<use href="#F1" stroke="#9D8DEA"/>
<use href="#F2" stroke="#9180E8"/>
<use href="#F3" stroke="#8672E5"/>
<use href="#F4" stroke="#7A65E3"/>
<use href="#F5" stroke="#6F57E0"/>
<use href="#B0" stroke="#7863E8"/>
<use href="#B1" stroke="#664EE5"/>
<use href="#B2" stroke="#5439E2"/>
<use href="#B3" stroke="#4225DF"/>
<use href="#B4" stroke="#3010DC"/>
<use href="#B5" stroke="#1E00D9"/>
<use href="#H0" stroke="#4D3DE6"/>
<use href="#H1" stroke="#3623E2"/>
<use href="#H2" stroke="#1E09DF"/>
<use href="#H3" stroke="#0600DC"/>
<use href="#H4" stroke="#0000D8"/>
<use href="#H5" stroke="#0000D5"/>
<use href="#K0" stroke="#9887E8"/>
<use href="#K1" stroke="#8A76E5"/>
<use href="#K2" stroke="#7D66E2"/>
<use href="#K3" stroke="#6F56DF"/>
<use href="#K4" stroke="#6146DC"/>
<use href="#K5" stroke="#5436D9"/>
<use href="#A0" stroke="#9887E8"/>
<use href="#A1" stroke="#8A76E5"/>
<use href="#A2" stroke="#7D66E2"/>
<use href="#A3" stroke="#6F56DF"/>
<use href="#A4" stroke="#6146DC"/>
<use href="#A5" stroke="#5436D9"/>
<use href="#S0" stroke="#9887E8"/>
<use href="#S1" stroke="#8A76E5"/>
<use href="#S2" stroke="#7D66E2"/>
<use href="#S3" stroke="#6F56DF"/>
<use href="#S4" stroke="#6146DC"/>
<use href="#S5" stroke="#5436D9"/>
<use href="#R0" stroke="#9887E8"/>
<use href="#R1" stroke="#8A76E5"/>
<use href="#R2" stroke="#7D66E2"/>
<use href="#R3" stroke="#6F56DF"/>
<use href="#R4" stroke="#6146DC"/>
<use href="#R5" stroke="#5436D9"/>
</g></g>
<g filter="url(#tb)">
<path d="M0 9V109.6H76.5" fill="none" stroke="#7a7a7a" stroke-width="0.55"/>
<line x1="-1.3" x2="0" y1="12.3" y2="12.3" stroke="#7a7a7a" stroke-width="0.45"/>
<text x="-1.6" y="14.2" font-size="3.4" fill="#111" stroke="#111" stroke-width="0.1" text-anchor="end">50</text>
<line x1="-1.3" x2="0" y1="37" y2="37" stroke="#7a7a7a" stroke-width="0.45"/>
<text x="-1.6" y="38.9" font-size="3.4" fill="#111" stroke="#111" stroke-width="0.1" text-anchor="end">25</text>
<line x1="-1.3" x2="0" y1="61.6" y2="61.6" stroke="#7a7a7a" stroke-width="0.45"/>
<text x="-1.6" y="63.5" font-size="3.4" fill="#111" stroke="#111" stroke-width="0.1" text-anchor="end">0</text>
<line x1="-1.3" x2="0" y1="86.2" y2="86.2" stroke="#7a7a7a" stroke-width="0.45"/>
<text x="-1.6" y="88.1" font-size="3.4" fill="#111" stroke="#111" stroke-width="0.1" text-anchor="end">-25</text>
<line x1="17.2" x2="17.2" y1="109.6" y2="110.9" stroke="#7a7a7a" stroke-width="0.45"/>
<text x="16.8" y="114.4" font-size="3.4" fill="#111" stroke="#111" stroke-width="0.1" text-anchor="middle">-20</text>
<line x1="35.2" x2="35.2" y1="109.6" y2="110.9" stroke="#7a7a7a" stroke-width="0.45"/>
<text x="34.8" y="114.4" font-size="3.4" fill="#111" stroke="#111" stroke-width="0.1" text-anchor="middle">0</text>
<line x1="53.1" x2="53.1" y1="109.6" y2="110.9" stroke="#7a7a7a" stroke-width="0.45"/>
<text x="52.7" y="114.4" font-size="3.4" fill="#111" stroke="#111" stroke-width="0.1" text-anchor="middle">20</text>
<line x1="71.5" x2="71.5" y1="109.6" y2="110.9" stroke="#7a7a7a" stroke-width="0.45"/>
<text x="71.1" y="114.4" font-size="3.4" fill="#111" stroke="#111" stroke-width="0.1" text-anchor="middle">40</text>
<text x="38" y="118.6" font-size="3.6" fill="#111" stroke="#111" stroke-width="0.1" text-anchor="middle">tSNE_1</text>
<text transform="translate(-7.6 59.5) rotate(-90)" font-size="3.6" fill="#111" stroke="#111" stroke-width="0.1" text-anchor="middle">tSNE_2</text>
<text x="38" y="6.6" font-size="4.7" font-weight="bold" fill="#000" stroke="#000" stroke-width="0.12" text-anchor="middle" textLength="30.5" lengthAdjust="spacingAndGlyphs">scsdae_ITGAX</text>
<rect x="79.8" y="50.1" width="3.9" height="19.9" fill="url(#cb)"/>
<text x="85.4" y="55.8" font-size="3.6" fill="#444" stroke="#444" stroke-width="0.06">0.6</text>
<text x="85.4" y="60.8" font-size="3.6" fill="#444" stroke="#444" stroke-width="0.06">0.4</text>
<text x="85.4" y="65.7" font-size="3.6" fill="#444" stroke="#444" stroke-width="0.06">0.2</text>
</g>
</g>
<g transform="translate(337.4 280)">
<g filter="url(#bl)">
<use href="#oD" fill="#F3F3F4"/>
<use href="#oE" fill="#F2F1F3"/>
<use href="#oG" fill="#F2F1F3"/>
<use href="#oC" fill="#F2F1F3"/>
<use href="#oF" fill="#EDECF4"/>
<use href="#oB" fill="#EAE9F4"/>
<use href="#oA" fill="#EDECF4"/>
<g stroke-width="0.9" stroke-linecap="round" fill="none">
<use href="#D0" stroke="#E5E5E6"/>
<use href="#D1" stroke="#E2E1E3"/>
<use href="#D2" stroke="#DEDEDF"/>
<use href="#D3" stroke="#DBDADC"/>
<use href="#D4" stroke="#D7D7D9"/>
<use href="#D5" stroke="#D4D3D5"/>
<use href="#E0" stroke="#E2E2E5"/>
<use href="#E1" stroke="#DEDEE1"/>
<use href="#E2" stroke="#DADADE"/>
<use href="#E3" stroke="#D6D6DA"/>
<use href="#E4" stroke="#D2D2D7"/>
<use href="#E5" stroke="#CECED4"/>
<use href="#G0" stroke="#E2E2E5"/>
<use href="#G1" stroke="#DEDEE1"/>
<use href="#G2" stroke="#DADADE"/>
<use href="#G3" stroke="#D6D6DA"/>
<use href="#G4" stroke="#D2D2D7"/>
<use href="#G5" stroke="#CECED4"/>
<use href="#J0" stroke="#DFDFE2"/>
<use href="#J1" stroke="#DBDADE"/>
<use href="#J2" stroke="#D6D6DB"/>
<use href="#J3" stroke="#D2D2D7"/>
<use href="#J4" stroke="#CECDD3"/>
<use href="#J5" stroke="#C9C9CF"/>
<use href="#I0" stroke="#E0DFE3"/>
<use href="#I1" stroke="#DCDBDF"/>
<use href="#I2" stroke="#D7D7DB"/>
<use href="#I3" stroke="#D3D3D7"/>
<use href="#I4" stroke="#CFCFD4"/>
<use href="#I5" stroke="#CBCAD0"/>
<use href="#L0" stroke="#D2D0E3"/>
<use href="#L1" stroke="#CCCAE0"/>
<use href="#L2" stroke="#C6C3DC"/>
<use href="#L3" stroke="#C0BDD8"/>
<use href="#L4" stroke="#BAB7D5"/>
<use href="#L5" stroke="#B4B0D1"/>
<use href="#M0" stroke="#DADAE1"/>
<use href="#M1" stroke="#D5D5DD"/>
<use href="#M2" stroke="#D1D0D9"/>
<use href="#M3" stroke="#CCCBD5"/>
<use href="#M4" stroke="#C7C6D1"/>
<use href="#M5" stroke="#C2C1CD"/>
<use href="#N0" stroke="#D6D4E6"/>
<use href="#N1" stroke="#D1CFE3"/>
<use href="#N2" stroke="#CBC9DF"/>
<use href="#N3" stroke="#C6C3DC"/>
<use href="#N4" stroke="#C0BDD9"/>
<use href="#N5" stroke="#BBB8D5"/>
<use href="#C0" stroke="#E2E2E5"/>
<use href="#C1" stroke="#DEDEE1"/>
<use href="#C2" stroke="#DADADE"/>
<use href="#C3" stroke="#D6D6DA"/>
<use href="#C4" stroke="#D2D2D7"/>
<use href="#C5" stroke="#CECED4"/>
<use href="#F0" stroke="#D8D6E6"/>
<use href="#F1" stroke="#D3D1E3"/>
<use href="#F2" stroke="#CECCDF"/>
<use href="#F3" stroke="#C8C6DC"/>
<use href="#F4" stroke="#C3C1D9"/>
<use href="#F5" stroke="#A8A8F0"/>
<use href="#B0" stroke="#D2D0E8"/>
<use href="#B1" stroke="#CCC9E5"/>
<use href="#B2" stroke="#C6C3E2"/>
<use href="#B3" stroke="#C0BDDF"/>
<use href="#B4" stroke="#BAB7DC"/>
<use href="#B5" stroke="#9898F0"/>
<use href="#H0" stroke="#CECBE6"/>
<use href="#H1" stroke="#C7C4E2"/>
<use href="#H2" stroke="#C0BDDF"/>
<use href="#H3" stroke="#BAB6DC"/>
<use href="#H4" stroke="#B3AFD8"/>
<use href="#H5" stroke="#ADA8D5"/>
<use href="#K0" stroke="#D8D6E6"/>
<use href="#K1" stroke="#D3D1E3"/>
<use href="#K2" stroke="#CECCDF"/>
<use href="#K3" stroke="#C8C6DC"/>
<use href="#K4" stroke="#C3C1D9"/>
<use href="#K5" stroke="#A0A0F0"/>
<use href="#A0" stroke="#D8D6E6"/>
<use href="#A1" stroke="#D3D1E3"/>
<use href="#A2" stroke="#CECCDF"/>
<use href="#A3" stroke="#C8C6DC"/>
<use href="#A4" stroke="#C3C1D9"/>
<use href="#A5" stroke="#A0A0F0"/>
<use href="#S0" stroke="#D8D6E6"/>
<use href="#S1" stroke="#D3D1E3"/>
<use href="#S2" stroke="#CECCDF"/>
<use href="#S3" stroke="#C8C6DC"/>
<use href="#S4" stroke="#C3C1D9"/>
<use href="#S5" stroke="#A0A0F0"/>
<use href="#R0" stroke="#D8D6E6"/>
<use href="#R1" stroke="#D3D1E3"/>
<use href="#R2" stroke="#CECCDF"/>
<use href="#R3" stroke="#C8C6DC"/>
<use href="#R4" stroke="#C3C1D9"/>
<use href="#R5" stroke="#A0A0F0"/>
</g></g>
<g filter="url(#tb)">
<path d="M0 9V109.6H76.5" fill="none" stroke="#7a7a7a" stroke-width="0.55"/>
<line x1="-1.3" x2="0" y1="12.3" y2="12.3" stroke="#7a7a7a" stroke-width="0.45"/>
<text x="-1.6" y="14.2" font-size="3.4" fill="#111" stroke="#111" stroke-width="0.1" text-anchor="end">50</text>
<line x1="-1.3" x2="0" y1="37" y2="37" stroke="#7a7a7a" stroke-width="0.45"/>
<text x="-1.6" y="38.9" font-size="3.4" fill="#111" stroke="#111" stroke-width="0.1" text-anchor="end">25</text>
<line x1="-1.3" x2="0" y1="61.6" y2="61.6" stroke="#7a7a7a" stroke-width="0.45"/>
<text x="-1.6" y="63.5" font-size="3.4" fill="#111" stroke="#111" stroke-width="0.1" text-anchor="end">0</text>
<line x1="-1.3" x2="0" y1="86.2" y2="86.2" stroke="#7a7a7a" stroke-width="0.45"/>
<text x="-1.6" y="88.1" font-size="3.4" fill="#111" stroke="#111" stroke-width="0.1" text-anchor="end">-25</text>
<line x1="17.2" x2="17.2" y1="109.6" y2="110.9" stroke="#7a7a7a" stroke-width="0.45"/>
<text x="16.8" y="114.4" font-size="3.4" fill="#111" stroke="#111" stroke-width="0.1" text-anchor="middle">-20</text>
<line x1="35.2" x2="35.2" y1="109.6" y2="110.9" stroke="#7a7a7a" stroke-width="0.45"/>
<text x="34.8" y="114.4" font-size="3.4" fill="#111" stroke="#111" stroke-width="0.1" text-anchor="middle">0</text>
<line x1="53.1" x2="53.1" y1="109.6" y2="110.9" stroke="#7a7a7a" stroke-width="0.45"/>
<text x="52.7" y="114.4" font-size="3.4" fill="#111" stroke="#111" stroke-width="0.1" text-anchor="middle">20</text>
<line x1="71.5" x2="71.5" y1="109.6" y2="110.9" stroke="#7a7a7a" stroke-width="0.45"/>
<text x="71.1" y="114.4" font-size="3.4" fill="#111" stroke="#111" stroke-width="0.1" text-anchor="middle">40</text>
<text x="38" y="118.6" font-size="3.6" fill="#111" stroke="#111" stroke-width="0.1" text-anchor="middle">tSNE_1</text>
<text transform="translate(-7.6 59.5) rotate(-90)" font-size="3.6" fill="#111" stroke="#111" stroke-width="0.1" text-anchor="middle">tSNE_2</text>
<text x="38" y="6.6" font-size="4.7" font-weight="bold" fill="#000" stroke="#000" stroke-width="0.12" text-anchor="middle" textLength="33.4" lengthAdjust="spacingAndGlyphs">scimpute_ITGAX</text>
<rect x="79.8" y="50.1" width="3.9" height="19.9" fill="url(#cb)"/>
<text x="85.4" y="55.8" font-size="3.6" fill="#444" stroke="#444" stroke-width="0.06">1.5</text>
<text x="85.4" y="61" font-size="3.6" fill="#444" stroke="#444" stroke-width="0.06">1.0</text>
<text x="85.4" y="65.9" font-size="3.6" fill="#444" stroke="#444" stroke-width="0.06">0.5</text>
</g>
</g>
<g transform="translate(17.4 400)">
<g filter="url(#bl)">
<use href="#oD" fill="#F3F3F4"/>
<use href="#oE" fill="#F1F0F2"/>
<use href="#oG" fill="#E3DFF6"/>
<use href="#oC" fill="#F1F0F2"/>
<use href="#oF" fill="#E0DBF6"/>
<use href="#oB" fill="#C1B7F4"/>
<use href="#oA" fill="#D0C9F4"/>
<g stroke-width="0.9" stroke-linecap="round" fill="none">
<use href="#D0" stroke="#E5E5E6"/>
<use href="#D1" stroke="#E2E1E3"/>
<use href="#D2" stroke="#DEDEDF"/>
<use href="#D3" stroke="#DBDADC"/>
<use href="#D4" stroke="#D7D7D9"/>
<use href="#D5" stroke="#D4D3D5"/>
<use href="#E0" stroke="#E0DFE4"/>
<use href="#E1" stroke="#DCDBE0"/>
<use href="#E2" stroke="#D7D7DD"/>
<use href="#E3" stroke="#D3D3D9"/>
<use href="#E4" stroke="#CFCFD5"/>
<use href="#E5" stroke="#CBCAD2"/>
<use href="#G0" stroke="#C2B9ED"/>
<use href="#G1" stroke="#BAB0EA"/>
<use href="#G2" stroke="#B2A7E8"/>
<use href="#G3" stroke="#AA9EE5"/>
<use href="#G4" stroke="#A294E3"/>
<use href="#G5" stroke="#9A8BE0"/>
<use href="#J0" stroke="#A69AEB"/>
<use href="#J1" stroke="#9A8CE8"/>
<use href="#J2" stroke="#8E7FE5"/>
<use href="#J3" stroke="#8371E2"/>
<use href="#J4" stroke="#7764E0"/>
<use href="#J5" stroke="#6B56DD"/>
<use href="#I0" stroke="#C2BEE8"/>
<use href="#I1" stroke="#BAB5E5"/>
<use href="#I2" stroke="#B2ADE2"/>
<use href="#I3" stroke="#AAA4DF"/>
<use href="#I4" stroke="#A29BDC"/>
<use href="#I5" stroke="#9A93D9"/>
<use href="#L0" stroke="#9D90E8"/>
<use href="#L1" stroke="#9081E5"/>
<use href="#L2" stroke="#8372E2"/>
<use href="#L3" stroke="#7664DF"/>
<use href="#L4" stroke="#6955DC"/>
<use href="#L5" stroke="#5C46D9"/>
<use href="#M0" stroke="#AFA4EB"/>
<use href="#M1" stroke="#A497E8"/>
<use href="#M2" stroke="#9A8BE5"/>
<use href="#M3" stroke="#8F7FE2"/>
<use href="#M4" stroke="#8473E0"/>
<use href="#M5" stroke="#7A67DD"/>
<use href="#N0" stroke="#AEA3ED"/>
<use href="#N1" stroke="#A497EA"/>
<use href="#N2" stroke="#998BE8"/>
<use href="#N3" stroke="#8E7FE5"/>
<use href="#N4" stroke="#8472E3"/>
<use href="#N5" stroke="#7966E0"/>
<use href="#C0" stroke="#E0DFE4"/>
<use href="#C1" stroke="#DCDBE0"/>
<use href="#C2" stroke="#D7D7DD"/>
<use href="#C3" stroke="#D3D3D9"/>
<use href="#C4" stroke="#CFCFD5"/>
<use href="#C5" stroke="#CBCAD2"/>
<use href="#F0" stroke="#BAB1ED"/>
<use href="#F1" stroke="#B1A6EA"/>
<use href="#F2" stroke="#A89CE8"/>
<use href="#F3" stroke="#9F91E5"/>
<use href="#F4" stroke="#9687E3"/>
<use href="#F5" stroke="#8D7CE0"/>
<use href="#B0" stroke="#7863E8"/>
<use href="#B1" stroke="#664EE5"/>
<use href="#B2" stroke="#5439E2"/>
<use href="#B3" stroke="#4225DF"/>
<use href="#B4" stroke="#3010DC"/>
<use href="#B5" stroke="#1E00D9"/>
<use href="#H0" stroke="#7C69E8"/>
<use href="#H1" stroke="#6B55E5"/>
<use href="#H2" stroke="#5941E2"/>
<use href="#H3" stroke="#482DDF"/>
<use href="#H4" stroke="#3619DC"/>
<use href="#H5" stroke="#2505D9"/>
<use href="#K0" stroke="#9889E8"/>
<use href="#K1" stroke="#8A79E5"/>
<use href="#K2" stroke="#7D69E2"/>
<use href="#K3" stroke="#6F59DF"/>
<use href="#K4" stroke="#614ADC"/>
<use href="#K5" stroke="#543AD9"/>
<use href="#A0" stroke="#9889E8"/>
<use href="#A1" stroke="#8A79E5"/>
<use href="#A2" stroke="#7D69E2"/>
<use href="#A3" stroke="#6F59DF"/>
<use href="#A4" stroke="#614ADC"/>
<use href="#A5" stroke="#543AD9"/>
<use href="#S0" stroke="#9889E8"/>
<use href="#S1" stroke="#8A79E5"/>
<use href="#S2" stroke="#7D69E2"/>
<use href="#S3" stroke="#6F59DF"/>
<use href="#S4" stroke="#614ADC"/>
<use href="#S5" stroke="#543AD9"/>
<use href="#R0" stroke="#9889E8"/>
<use href="#R1" stroke="#8A79E5"/>
<use href="#R2" stroke="#7D69E2"/>
<use href="#R3" stroke="#6F59DF"/>
<use href="#R4" stroke="#614ADC"/>
<use href="#R5" stroke="#543AD9"/>
</g></g>
<g filter="url(#tb)">
<path d="M0 9V109.6H76.5" fill="none" stroke="#7a7a7a" stroke-width="0.55"/>
<line x1="-1.3" x2="0" y1="12.3" y2="12.3" stroke="#7a7a7a" stroke-width="0.45"/>
<text x="-1.6" y="14.2" font-size="3.4" fill="#111" stroke="#111" stroke-width="0.1" text-anchor="end">50</text>
<line x1="-1.3" x2="0" y1="37" y2="37" stroke="#7a7a7a" stroke-width="0.45"/>
<text x="-1.6" y="38.9" font-size="3.4" fill="#111" stroke="#111" stroke-width="0.1" text-anchor="end">25</text>
<line x1="-1.3" x2="0" y1="61.6" y2="61.6" stroke="#7a7a7a" stroke-width="0.45"/>
<text x="-1.6" y="63.5" font-size="3.4" fill="#111" stroke="#111" stroke-width="0.1" text-anchor="end">0</text>
<line x1="-1.3" x2="0" y1="86.2" y2="86.2" stroke="#7a7a7a" stroke-width="0.45"/>
<text x="-1.6" y="88.1" font-size="3.4" fill="#111" stroke="#111" stroke-width="0.1" text-anchor="end">-25</text>
<line x1="17.2" x2="17.2" y1="109.6" y2="110.9" stroke="#7a7a7a" stroke-width="0.45"/>
<text x="16.8" y="114.4" font-size="3.4" fill="#111" stroke="#111" stroke-width="0.1" text-anchor="middle">-20</text>
<line x1="35.2" x2="35.2" y1="109.6" y2="110.9" stroke="#7a7a7a" stroke-width="0.45"/>
<text x="34.8" y="114.4" font-size="3.4" fill="#111" stroke="#111" stroke-width="0.1" text-anchor="middle">0</text>
<line x1="53.1" x2="53.1" y1="109.6" y2="110.9" stroke="#7a7a7a" stroke-width="0.45"/>
<text x="52.7" y="114.4" font-size="3.4" fill="#111" stroke="#111" stroke-width="0.1" text-anchor="middle">20</text>
<line x1="71.5" x2="71.5" y1="109.6" y2="110.9" stroke="#7a7a7a" stroke-width="0.45"/>
<text x="71.1" y="114.4" font-size="3.4" fill="#111" stroke="#111" stroke-width="0.1" text-anchor="middle">40</text>
<text x="38" y="118.6" font-size="3.6" fill="#111" stroke="#111" stroke-width="0.1" text-anchor="middle">tSNE_1</text>
<text transform="translate(-7.6 59.5) rotate(-90)" font-size="3.6" fill="#111" stroke="#111" stroke-width="0.1" text-anchor="middle">tSNE_2</text>
<text x="38" y="6.6" font-size="4.7" font-weight="bold" fill="#000" stroke="#000" stroke-width="0.12" text-anchor="middle" textLength="27.7" lengthAdjust="spacingAndGlyphs">magic_ITGAX</text>
<rect x="79.8" y="50.1" width="3.9" height="19.9" fill="url(#cb)"/>
<text x="85.4" y="58" font-size="3.6" fill="#444" stroke="#444" stroke-width="0.06">0.10</text>
<text x="85.4" y="65.1" font-size="3.6" fill="#444" stroke="#444" stroke-width="0.06">0.05</text>
</g>
</g>
<g transform="translate(124.1 400)">
<g filter="url(#bl)">
<use href="#oD" fill="#D8D3F6"/>
<use href="#oE" fill="#E0DBF6"/>
<use href="#oG" fill="#F1F1F2"/>
<use href="#oC" fill="#C7BEF4"/>
<use href="#oF" fill="#C7BEF4"/>
<use href="#oB" fill="#D6D1F6"/>
<use href="#oA" fill="#D4CEF4"/>
<g stroke-width="0.9" stroke-linecap="round" fill="none">
<use href="#D0" stroke="#AA9FEA"/>
<use href="#D1" stroke="#9F92E8"/>
<use href="#D2" stroke="#9485E5"/>
<use href="#D3" stroke="#8878E2"/>
<use href="#D4" stroke="#7D6CDF"/>
<use href="#D5" stroke="#725FDD"/>
<use href="#E0" stroke="#BAB1ED"/>
<use href="#E1" stroke="#B1A6EA"/>
<use href="#E2" stroke="#A89CE8"/>
<use href="#E3" stroke="#9F91E5"/>
<use href="#E4" stroke="#9687E3"/>
<use href="#E5" stroke="#8D7CE0"/>
<use href="#G0" stroke="#E1E0E4"/>
<use href="#G1" stroke="#DDDCE0"/>
<use href="#G2" stroke="#D9D8DD"/>
<use href="#G3" stroke="#D5D4D9"/>
<use href="#G4" stroke="#D1D0D5"/>
<use href="#G5" stroke="#CDCCD2"/>
<use href="#J0" stroke="#7164E8"/>
<use href="#J1" stroke="#5E4FE5"/>
<use href="#J2" stroke="#4B3BE2"/>
<use href="#J3" stroke="#3826DF"/>
<use href="#J4" stroke="#2511DC"/>
<use href="#J5" stroke="#1200D9"/>
<use href="#I0" stroke="#A69AEA"/>
<use href="#I1" stroke="#9A8DE8"/>
<use href="#I2" stroke="#8F80E5"/>
<use href="#I3" stroke="#8372E2"/>
<use href="#I4" stroke="#7765DF"/>
<use href="#I5" stroke="#6B57DD"/>
<use href="#L0" stroke="#7E6EE6"/>
<use href="#L1" stroke="#6D5AE2"/>
<use href="#L2" stroke="#5C47DF"/>
<use href="#L3" stroke="#4A34DC"/>
<use href="#L4" stroke="#3920D8"/>
<use href="#L5" stroke="#280DD5"/>
<use href="#M0" stroke="#A69AEB"/>
<use href="#M1" stroke="#9A8CE8"/>
<use href="#M2" stroke="#8E7FE5"/>
<use href="#M3" stroke="#8371E2"/>
<use href="#M4" stroke="#7764E0"/>
<use href="#M5" stroke="#6B56DD"/>
<use href="#N0" stroke="#9684E8"/>
<use href="#N1" stroke="#8874E5"/>
<use href="#N2" stroke="#7A64E2"/>
<use href="#N3" stroke="#6C53DF"/>
<use href="#N4" stroke="#5E43DC"/>
<use href="#N5" stroke="#5033D9"/>
<use href="#C0" stroke="#8673E8"/>
<use href="#C1" stroke="#7660E5"/>
<use href="#C2" stroke="#664DE2"/>
<use href="#C3" stroke="#563ADF"/>
<use href="#C4" stroke="#4628DC"/>
<use href="#C5" stroke="#3615D9"/>
<use href="#F0" stroke="#8673E8"/>
<use href="#F1" stroke="#7660E5"/>
<use href="#F2" stroke="#664DE2"/>
<use href="#F3" stroke="#563ADF"/>
<use href="#F4" stroke="#4628DC"/>
<use href="#F5" stroke="#3615D9"/>
<use href="#B0" stroke="#A69AEA"/>
<use href="#B1" stroke="#9A8DE8"/>
<use href="#B2" stroke="#8F80E5"/>
<use href="#B3" stroke="#8372E2"/>
<use href="#B4" stroke="#7765DF"/>
<use href="#B5" stroke="#6B57DD"/>
<use href="#H0" stroke="#5F50E6"/>
<use href="#H1" stroke="#4A39E2"/>
<use href="#H2" stroke="#3422DF"/>
<use href="#H3" stroke="#1F0BDC"/>
<use href="#H4" stroke="#0A00D8"/>
<use href="#H5" stroke="#0000D5"/>
<use href="#K0" stroke="#A294E8"/>
<use href="#K1" stroke="#9686E5"/>
<use href="#K2" stroke="#8977E2"/>
<use href="#K3" stroke="#7D69DF"/>
<use href="#K4" stroke="#715BDC"/>
<use href="#K5" stroke="#644CD9"/>
<use href="#A0" stroke="#A294E8"/>
<use href="#A1" stroke="#9686E5"/>
<use href="#A2" stroke="#8977E2"/>
<use href="#A3" stroke="#7D69DF"/>
<use href="#A4" stroke="#715BDC"/>
<use href="#A5" stroke="#644CD9"/>
<use href="#S0" stroke="#A294E8"/>
<use href="#S1" stroke="#9686E5"/>
<use href="#S2" stroke="#8977E2"/>
<use href="#S3" stroke="#7D69DF"/>
<use href="#S4" stroke="#715BDC"/>
<use href="#S5" stroke="#644CD9"/>
<use href="#R0" stroke="#A294E8"/>
<use href="#R1" stroke="#9686E5"/>
<use href="#R2" stroke="#8977E2"/>
<use href="#R3" stroke="#7D69DF"/>
<use href="#R4" stroke="#715BDC"/>
<use href="#R5" stroke="#644CD9"/>
</g></g>
<g filter="url(#tb)">
<path d="M0 9V109.6H76.5" fill="none" stroke="#7a7a7a" stroke-width="0.55"/>
<line x1="-1.3" x2="0" y1="12.3" y2="12.3" stroke="#7a7a7a" stroke-width="0.45"/>
<text x="-1.6" y="14.2" font-size="3.4" fill="#111" stroke="#111" stroke-width="0.1" text-anchor="end">50</text>
<line x1="-1.3" x2="0" y1="37" y2="37" stroke="#7a7a7a" stroke-width="0.45"/>
<text x="-1.6" y="38.9" font-size="3.4" fill="#111" stroke="#111" stroke-width="0.1" text-anchor="end">25</text>
<line x1="-1.3" x2="0" y1="61.6" y2="61.6" stroke="#7a7a7a" stroke-width="0.45"/>
<text x="-1.6" y="63.5" font-size="3.4" fill="#111" stroke="#111" stroke-width="0.1" text-anchor="end">0</text>
<line x1="-1.3" x2="0" y1="86.2" y2="86.2" stroke="#7a7a7a" stroke-width="0.45"/>
<text x="-1.6" y="88.1" font-size="3.4" fill="#111" stroke="#111" stroke-width="0.1" text-anchor="end">-25</text>
<line x1="17.2" x2="17.2" y1="109.6" y2="110.9" stroke="#7a7a7a" stroke-width="0.45"/>
<text x="16.8" y="114.4" font-size="3.4" fill="#111" stroke="#111" stroke-width="0.1" text-anchor="middle">-20</text>
<line x1="35.2" x2="35.2" y1="109.6" y2="110.9" stroke="#7a7a7a" stroke-width="0.45"/>
<text x="34.8" y="114.4" font-size="3.4" fill="#111" stroke="#111" stroke-width="0.1" text-anchor="middle">0</text>
<line x1="53.1" x2="53.1" y1="109.6" y2="110.9" stroke="#7a7a7a" stroke-width="0.45"/>
<text x="52.7" y="114.4" font-size="3.4" fill="#111" stroke="#111" stroke-width="0.1" text-anchor="middle">20</text>
<line x1="71.5" x2="71.5" y1="109.6" y2="110.9" stroke="#7a7a7a" stroke-width="0.45"/>
<text x="71.1" y="114.4" font-size="3.4" fill="#111" stroke="#111" stroke-width="0.1" text-anchor="middle">40</text>
<text x="38" y="118.6" font-size="3.6" fill="#111" stroke="#111" stroke-width="0.1" text-anchor="middle">tSNE_1</text>
<text transform="translate(-7.6 59.5) rotate(-90)" font-size="3.6" fill="#111" stroke="#111" stroke-width="0.1" text-anchor="middle">tSNE_2</text>
<text x="38" y="6.6" font-size="4.7" font-weight="bold" fill="#000" stroke="#000" stroke-width="0.12" text-anchor="middle" textLength="27.6" lengthAdjust="spacingAndGlyphs">sdae0_ITGAX</text>
<rect x="79.8" y="50.1" width="3.9" height="19.9" fill="url(#cb)"/>
<text x="85.4" y="52.8" font-size="3.6" fill="#444" stroke="#444" stroke-width="0.06">0.9</text>
<text x="85.4" y="59.4" font-size="3.6" fill="#444" stroke="#444" stroke-width="0.06">0.8</text>
<text x="85.4" y="65.7" font-size="3.6" fill="#444" stroke="#444" stroke-width="0.06">0.7</text>
</g>
</g>
<g transform="translate(230.7 400)">
<g filter="url(#bl)">
<use href="#oD" fill="#F3F3F4"/>
<use href="#oE" fill="#F1F1F2"/>
<use href="#oG" fill="#EBE8F6"/>
<use href="#oC" fill="#F1F1F2"/>
<use href="#oF" fill="#E9E5F8"/>
<use href="#oB" fill="#E0DBF6"/>
<use href="#oA" fill="#E6E2F8"/>
<g stroke-width="0.9" stroke-linecap="round" fill="none">
<use href="#D0" stroke="#E5E5E6"/>
<use href="#D1" stroke="#E2E1E3"/>
<use href="#D2" stroke="#DEDEDF"/>
<use href="#D3" stroke="#DBDADC"/>
<use href="#D4" stroke="#D7D7D9"/>
<use href="#D5" stroke="#D4D3D5"/>
<use href="#E0" stroke="#E1E0E4"/>
<use href="#E1" stroke="#DDDCE0"/>
<use href="#E2" stroke="#D9D8DD"/>
<use href="#E3" stroke="#D5D4D9"/>
<use href="#E4" stroke="#D1D0D5"/>
<use href="#E5" stroke="#CDCCD2"/>
<use href="#G0" stroke="#D5CDED"/>
<use href="#G1" stroke="#CFC7EA"/>
<use href="#G2" stroke="#C9C0E8"/>
<use href="#G3" stroke="#C4BAE5"/>
<use href="#G4" stroke="#BEB3E3"/>
<use href="#G5" stroke="#B8ACE0"/>
<use href="#J0" stroke="#C1B7EB"/>
<use href="#J1" stroke="#B8AEE8"/>
<use href="#J2" stroke="#B0A4E5"/>
<use href="#J3" stroke="#A89AE2"/>
<use href="#J4" stroke="#9F91E0"/>
<use href="#J5" stroke="#9787DD"/>
<use href="#I0" stroke="#D2D0E4"/>
<use href="#I1" stroke="#CCCAE0"/>
<use href="#I2" stroke="#C6C3DD"/>
<use href="#I3" stroke="#C0BDD9"/>
<use href="#I4" stroke="#BAB7D5"/>
<use href="#I5" stroke="#B4B0D2"/>
<use href="#L0" stroke="#B8ADEB"/>
<use href="#L1" stroke="#AEA3E8"/>
<use href="#L2" stroke="#A598E5"/>
<use href="#L3" stroke="#9B8DE2"/>
<use href="#L4" stroke="#9282E0"/>
<use href="#L5" stroke="#8877DD"/>
<use href="#M0" stroke="#C5BCEB"/>
<use href="#M1" stroke="#BDB3E8"/>
<use href="#M2" stroke="#B6AAE5"/>
<use href="#M3" stroke="#AEA1E2"/>
<use href="#M4" stroke="#A698E0"/>
<use href="#M5" stroke="#9E8FDD"/>
<use href="#N0" stroke="#C6BEED"/>
<use href="#N1" stroke="#BFB5EA"/>
<use href="#N2" stroke="#B7ADE8"/>
<use href="#N3" stroke="#B0A4E5"/>
<use href="#N4" stroke="#A89BE3"/>
<use href="#N5" stroke="#A193E0"/>
<use href="#C0" stroke="#E1E0E4"/>
<use href="#C1" stroke="#DDDCE0"/>
<use href="#C2" stroke="#D9D8DD"/>
<use href="#C3" stroke="#D5D4D9"/>
<use href="#C4" stroke="#D1D0D5"/>
<use href="#C5" stroke="#CDCCD2"/>
<use href="#F0" stroke="#CFC7EF"/>
<use href="#F1" stroke="#C8BFED"/>
<use href="#F2" stroke="#C2B8EA"/>
<use href="#F3" stroke="#BBB0E8"/>
<use href="#F4" stroke="#B5A9E6"/>
<use href="#F5" stroke="#AEA1E4"/>
<use href="#B0" stroke="#BAB1ED"/>
<use href="#B1" stroke="#B1A6EA"/>
<use href="#B2" stroke="#A89CE8"/>
<use href="#B3" stroke="#9F91E5"/>
<use href="#B4" stroke="#9687E3"/>
<use href="#B5" stroke="#8D7CE0"/>
<use href="#H0" stroke="#8978E8"/>
<use href="#H1" stroke="#7A66E5"/>
<use href="#H2" stroke="#6A53E2"/>
<use href="#H3" stroke="#5A41DF"/>
<use href="#H4" stroke="#4A2FDC"/>
<use href="#H5" stroke="#3B1DD9"/>
<use href="#K0" stroke="#C9C0EF"/>
<use href="#K1" stroke="#C1B8ED"/>
<use href="#K2" stroke="#BAAFEA"/>
<use href="#K3" stroke="#B3A7E8"/>
<use href="#K4" stroke="#AC9FE6"/>
<use href="#K5" stroke="#A496E4"/>
<use href="#A0" stroke="#C9C0EF"/>
<use href="#A1" stroke="#C1B8ED"/>
<use href="#A2" stroke="#BAAFEA"/>
<use href="#A3" stroke="#B3A7E8"/>
<use href="#A4" stroke="#AC9FE6"/>
<use href="#A5" stroke="#A496E4"/>
<use href="#S0" stroke="#C9C0EF"/>
<use href="#S1" stroke="#C1B8ED"/>
<use href="#S2" stroke="#BAAFEA"/>
<use href="#S3" stroke="#B3A7E8"/>
<use href="#S4" stroke="#AC9FE6"/>
<use href="#S5" stroke="#A496E4"/>
<use href="#R0" stroke="#C9C0EF"/>
<use href="#R1" stroke="#C1B8ED"/>
<use href="#R2" stroke="#BAAFEA"/>
<use href="#R3" stroke="#B3A7E8"/>
<use href="#R4" stroke="#AC9FE6"/>
<use href="#R5" stroke="#A496E4"/>
</g></g>
<g filter="url(#tb)">
<path d="M0 9V109.6H76.5" fill="none" stroke="#7a7a7a" stroke-width="0.55"/>
<line x1="-1.3" x2="0" y1="12.3" y2="12.3" stroke="#7a7a7a" stroke-width="0.45"/>
<text x="-1.6" y="14.2" font-size="3.4" fill="#111" stroke="#111" stroke-width="0.1" text-anchor="end">50</text>
<line x1="-1.3" x2="0" y1="37" y2="37" stroke="#7a7a7a" stroke-width="0.45"/>
<text x="-1.6" y="38.9" font-size="3.4" fill="#111" stroke="#111" stroke-width="0.1" text-anchor="end">25</text>
<line x1="-1.3" x2="0" y1="61.6" y2="61.6" stroke="#7a7a7a" stroke-width="0.45"/>
<text x="-1.6" y="63.5" font-size="3.4" fill="#111" stroke="#111" stroke-width="0.1" text-anchor="end">0</text>
<line x1="-1.3" x2="0" y1="86.2" y2="86.2" stroke="#7a7a7a" stroke-width="0.45"/>
<text x="-1.6" y="88.1" font-size="3.4" fill="#111" stroke="#111" stroke-width="0.1" text-anchor="end">-25</text>
<line x1="17.2" x2="17.2" y1="109.6" y2="110.9" stroke="#7a7a7a" stroke-width="0.45"/>
<text x="16.8" y="114.4" font-size="3.4" fill="#111" stroke="#111" stroke-width="0.1" text-anchor="middle">-20</text>
<line x1="35.2" x2="35.2" y1="109.6" y2="110.9" stroke="#7a7a7a" stroke-width="0.45"/>
<text x="34.8" y="114.4" font-size="3.4" fill="#111" stroke="#111" stroke-width="0.1" text-anchor="middle">0</text>
<line x1="53.1" x2="53.1" y1="109.6" y2="110.9" stroke="#7a7a7a" stroke-width="0.45"/>
<text x="52.7" y="114.4" font-size="3.4" fill="#111" stroke="#111" stroke-width="0.1" text-anchor="middle">20</text>
<line x1="71.5" x2="71.5" y1="109.6" y2="110.9" stroke="#7a7a7a" stroke-width="0.45"/>
<text x="71.1" y="114.4" font-size="3.4" fill="#111" stroke="#111" stroke-width="0.1" text-anchor="middle">40</text>
<text x="38" y="118.6" font-size="3.6" fill="#111" stroke="#111" stroke-width="0.1" text-anchor="middle">tSNE_1</text>
<text transform="translate(-7.6 59.5) rotate(-90)" font-size="3.6" fill="#111" stroke="#111" stroke-width="0.1" text-anchor="middle">tSNE_2</text>
<text x="38" y="6.6" font-size="4.7" font-weight="bold" fill="#000" stroke="#000" stroke-width="0.12" text-anchor="middle" textLength="25.2" lengthAdjust="spacingAndGlyphs">sdae_ITGAX</text>
<rect x="79.8" y="50.1" width="3.9" height="19.9" fill="url(#cb)"/>
<text x="85.4" y="53.9" font-size="3.6" fill="#444" stroke="#444" stroke-width="0.06">0.5</text>
<text x="85.4" y="57.5" font-size="3.6" fill="#444" stroke="#444" stroke-width="0.06">0.4</text>
<text x="85.4" y="60.8" font-size="3.6" fill="#444" stroke="#444" stroke-width="0.06">0.3</text>
<text x="85.4" y="64" font-size="3.6" fill="#444" stroke="#444" stroke-width="0.06">0.2</text>
<text x="85.4" y="67.6" font-size="3.6" fill="#444" stroke="#444" stroke-width="0.06">0.1</text>
</g>
</g>
<g transform="translate(337.4 400)">
<g filter="url(#bl)">
<use href="#oD" fill="#F3F3F4"/>
<use href="#oE" fill="#F1F0F2"/>
<use href="#oG" fill="#ECEBF4"/>
<use href="#oC" fill="#F0EFF2"/>
<use href="#oF" fill="#D1CAF4"/>
<use href="#oB" fill="#BAAFF4"/>
<use href="#oA" fill="#D0C8F4"/>
<g stroke-width="0.9" stroke-linecap="round" fill="none">
<use href="#D0" stroke="#E5E5E6"/>
<use href="#D1" stroke="#E2E1E3"/>
<use href="#D2" stroke="#DEDEDF"/>
<use href="#D3" stroke="#DBDADC"/>
<use href="#D4" stroke="#D7D7D9"/>
<use href="#D5" stroke="#D4D3D5"/>
<use href="#E0" stroke="#E0DFE4"/>
<use href="#E1" stroke="#DCDBE0"/>
<use href="#E2" stroke="#D7D7DD"/>
<use href="#E3" stroke="#D3D3D9"/>
<use href="#E4" stroke="#CFCFD5"/>
<use href="#E5" stroke="#CBCAD2"/>
<use href="#G0" stroke="#D6D4E6"/>
<use href="#G1" stroke="#D1CFE3"/>
<use href="#G2" stroke="#CBC9DF"/>
<use href="#G3" stroke="#C6C3DC"/>
<use href="#G4" stroke="#C0BDD9"/>
<use href="#G5" stroke="#BBB8D5"/>
<use href="#J0" stroke="#D6D5E1"/>
<use href="#J1" stroke="#D0CFDD"/>
<use href="#J2" stroke="#CBC9D9"/>
<use href="#J3" stroke="#C6C4D5"/>
<use href="#J4" stroke="#C0BED1"/>
<use href="#J5" stroke="#BBB9CD"/>
<use href="#I0" stroke="#C2BEE8"/>
<use href="#I1" stroke="#BAB5E5"/>
<use href="#I2" stroke="#B2ADE2"/>
<use href="#I3" stroke="#AAA4DF"/>
<use href="#I4" stroke="#A29BDC"/>
<use href="#I5" stroke="#9A93D9"/>
<use href="#L0" stroke="#3C29E6"/>
<use href="#L1" stroke="#220DE2"/>
<use href="#L2" stroke="#0800DF"/>
<use href="#L3" stroke="#0000DC"/>
<use href="#L4" stroke="#0000D8"/>
<use href="#L5" stroke="#0000D5"/>
<use href="#M0" stroke="#AFA4EB"/>
<use href="#M1" stroke="#A497E8"/>
<use href="#M2" stroke="#9A8BE5"/>
<use href="#M3" stroke="#8F7FE2"/>
<use href="#M4" stroke="#8473E0"/>
<use href="#M5" stroke="#7A67DD"/>
<use href="#N0" stroke="#C6BEED"/>
<use href="#N1" stroke="#BFB5EA"/>
<use href="#N2" stroke="#B7ADE8"/>
<use href="#N3" stroke="#B0A4E5"/>
<use href="#N4" stroke="#A89BE3"/>
<use href="#N5" stroke="#A193E0"/>
<use href="#C0" stroke="#DEDDE4"/>
<use href="#C1" stroke="#D9D9E0"/>
<use href="#C2" stroke="#D5D4DD"/>
<use href="#C3" stroke="#D1D0D9"/>
<use href="#C4" stroke="#CCCBD5"/>
<use href="#C5" stroke="#C8C7D2"/>
<use href="#F0" stroke="#9A8BE8"/>
<use href="#F1" stroke="#8D7CE5"/>
<use href="#F2" stroke="#7F6CE2"/>
<use href="#F3" stroke="#725DDF"/>
<use href="#F4" stroke="#644DDC"/>
<use href="#F5" stroke="#573ED9"/>
<use href="#B0" stroke="#6851E8"/>
<use href="#B1" stroke="#543AE5"/>
<use href="#B2" stroke="#4023E2"/>
<use href="#B3" stroke="#2C0CDF"/>
<use href="#B4" stroke="#1800DC"/>
<use href="#B5" stroke="#0300D9"/>
<use href="#H0" stroke="#4D3DE6"/>
<use href="#H1" stroke="#3623E2"/>
<use href="#H2" stroke="#1E09DF"/>
<use href="#H3" stroke="#0600DC"/>
<use href="#H4" stroke="#0000D8"/>
<use href="#H5" stroke="#0000D5"/>
<use href="#K0" stroke="#9887E8"/>
<use href="#K1" stroke="#8A76E5"/>
<use href="#K2" stroke="#7D66E2"/>
<use href="#K3" stroke="#6F56DF"/>
<use href="#K4" stroke="#6146DC"/>
<use href="#K5" stroke="#5436D9"/>
<use href="#A0" stroke="#9887E8"/>
<use href="#A1" stroke="#8A76E5"/>
<use href="#A2" stroke="#7D66E2"/>
<use href="#A3" stroke="#6F56DF"/>
<use href="#A4" stroke="#6146DC"/>
<use href="#A5" stroke="#5436D9"/>
<use href="#S0" stroke="#9887E8"/>
<use href="#S1" stroke="#8A76E5"/>
<use href="#S2" stroke="#7D66E2"/>
<use href="#S3" stroke="#6F56DF"/>
<use href="#S4" stroke="#6146DC"/>
<use href="#S5" stroke="#5436D9"/>
<use href="#R0" stroke="#9887E8"/>
<use href="#R1" stroke="#8A76E5"/>
<use href="#R2" stroke="#7D66E2"/>
<use href="#R3" stroke="#6F56DF"/>
<use href="#R4" stroke="#6146DC"/>
<use href="#R5" stroke="#5436D9"/>
</g></g>
<g filter="url(#tb)">
<path d="M0 9V109.6H76.5" fill="none" stroke="#7a7a7a" stroke-width="0.55"/>
<line x1="-1.3" x2="0" y1="12.3" y2="12.3" stroke="#7a7a7a" stroke-width="0.45"/>
<text x="-1.6" y="14.2" font-size="3.4" fill="#111" stroke="#111" stroke-width="0.1" text-anchor="end">50</text>
<line x1="-1.3" x2="0" y1="37" y2="37" stroke="#7a7a7a" stroke-width="0.45"/>
<text x="-1.6" y="38.9" font-size="3.4" fill="#111" stroke="#111" stroke-width="0.1" text-anchor="end">25</text>
<line x1="-1.3" x2="0" y1="61.6" y2="61.6" stroke="#7a7a7a" stroke-width="0.45"/>
<text x="-1.6" y="63.5" font-size="3.4" fill="#111" stroke="#111" stroke-width="0.1" text-anchor="end">0</text>
<line x1="-1.3" x2="0" y1="86.2" y2="86.2" stroke="#7a7a7a" stroke-width="0.45"/>
<text x="-1.6" y="88.1" font-size="3.4" fill="#111" stroke="#111" stroke-width="0.1" text-anchor="end">-25</text>
<line x1="17.2" x2="17.2" y1="109.6" y2="110.9" stroke="#7a7a7a" stroke-width="0.45"/>
<text x="16.8" y="114.4" font-size="3.4" fill="#111" stroke="#111" stroke-width="0.1" text-anchor="middle">-20</text>
<line x1="35.2" x2="35.2" y1="109.6" y2="110.9" stroke="#7a7a7a" stroke-width="0.45"/>
<text x="34.8" y="114.4" font-size="3.4" fill="#111" stroke="#111" stroke-width="0.1" text-anchor="middle">0</text>
<line x1="53.1" x2="53.1" y1="109.6" y2="110.9" stroke="#7a7a7a" stroke-width="0.45"/>
<text x="52.7" y="114.4" font-size="3.4" fill="#111" stroke="#111" stroke-width="0.1" text-anchor="middle">20</text>
<line x1="71.5" x2="71.5" y1="109.6" y2="110.9" stroke="#7a7a7a" stroke-width="0.45"/>
<text x="71.1" y="114.4" font-size="3.4" fill="#111" stroke="#111" stroke-width="0.1" text-anchor="middle">40</text>
<text x="38" y="118.6" font-size="3.6" fill="#111" stroke="#111" stroke-width="0.1" text-anchor="middle">tSNE_1</text>
<text transform="translate(-7.6 59.5) rotate(-90)" font-size="3.6" fill="#111" stroke="#111" stroke-width="0.1" text-anchor="middle">tSNE_2</text>
<text x="38" y="6.6" font-size="4.7" font-weight="bold" fill="#000" stroke="#000" stroke-width="0.12" text-anchor="middle" textLength="22.9" lengthAdjust="spacingAndGlyphs">dca_ITGAX</text>
<rect x="79.8" y="50.1" width="3.9" height="19.9" fill="url(#cb)"/>
<text x="85.4" y="55.3" font-size="3.6" fill="#444" stroke="#444" stroke-width="0.06">0.4</text>
<text x="85.4" y="59.7" font-size="3.6" fill="#444" stroke="#444" stroke-width="0.06">0.3</text>
<text x="85.4" y="64" font-size="3.6" fill="#444" stroke="#444" stroke-width="0.06">0.2</text>
<text x="85.4" y="68.4" font-size="3.6" fill="#444" stroke="#444" stroke-width="0.06">0.1</text>
</g>
</g></svg></body></html>
